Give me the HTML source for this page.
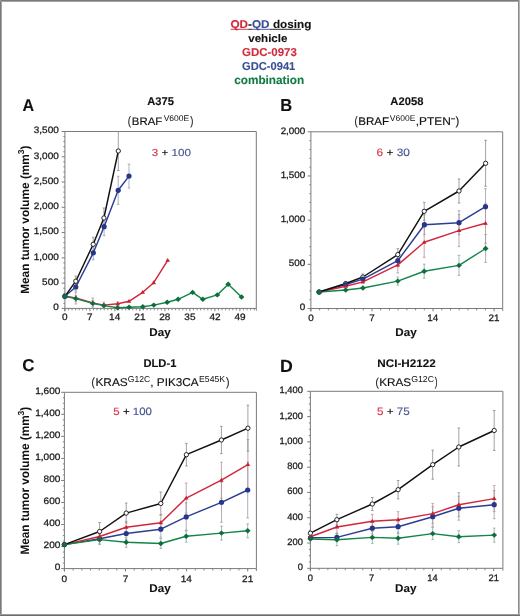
<!DOCTYPE html>
<html><head><meta charset="utf-8"><style>
html,body{margin:0;padding:0;background:#fff;}
body{width:520px;height:616px;overflow:hidden;position:relative;}
svg{position:absolute;left:0;top:0;filter:blur(0.35px);font-family:"Liberation Sans",sans-serif;text-rendering:geometricPrecision;}
</style></head><body>
<svg width="520" height="616" viewBox="0 0 520 616">
<rect x="0" y="0" width="520" height="616" fill="#fff"/>
<path d="M0.5 616 V0.5 H519" fill="none" stroke="#7a7a7a" stroke-width="1"/>
<path d="M1.5 616 V1.5 H518" fill="none" stroke="#a4a4a4" stroke-width="1"/>
<path d="M518.5 0 V616" fill="none" stroke="#8c8c8c" stroke-width="1"/>
<path d="M519.5 0 V616" fill="none" stroke="#b4b4b4" stroke-width="1"/>
<path d="M0 614.5 H520" fill="none" stroke="#9a9a9a" stroke-width="1"/>
<path d="M0 615.5 H520" fill="none" stroke="#6e6e6e" stroke-width="1"/>
<text transform="translate(230.42 27.6) scale(1.0406 1)" font-size="11.31" font-weight="bold" fill="#111" stroke="#111" stroke-width="0.1"><tspan fill="#d02a3c" stroke="#d02a3c">QD</tspan><tspan fill="#111" stroke="#111">-</tspan><tspan fill="#3a4e96" stroke="#3a4e96">QD</tspan><tspan fill="#111" stroke="#111"> dosing</tspan></text>
<line x1="230.6" y1="29.3" x2="248.2" y2="29.3" stroke="#d02a3c" stroke-width="0.9"/>
<line x1="248.2" y1="29.3" x2="252.2" y2="29.3" stroke="#111" stroke-width="0.9"/>
<line x1="252.2" y1="29.3" x2="270" y2="29.3" stroke="#3a4e96" stroke-width="0.9"/>
<line x1="270" y1="29.3" x2="301" y2="29.3" stroke="#111" stroke-width="0.9"/>
<text transform="translate(248.25 41.5) scale(1.0487 1)" font-size="11.03" font-weight="bold" fill="#111" stroke="#111" stroke-width="0.1">vehicle</text>
<text transform="translate(242.03 55.8) scale(1.0000 1)" font-size="11.46" font-weight="bold" fill="#d02a3c" stroke="#d02a3c" stroke-width="0.1">GDC-0973</text>
<text transform="translate(242.04 69.9) scale(0.9723 1)" font-size="11.46" font-weight="bold" fill="#3a4e96" stroke="#3a4e96" stroke-width="0.1">GDC-0941</text>
<text transform="translate(234.14 84) scale(0.9940 1)" font-size="11.86" font-weight="bold" fill="#117a42" stroke="#117a42" stroke-width="0.1">combination</text>
<text transform="translate(22.6 111.3) scale(0.9386 1)" font-size="17.15" font-weight="bold" fill="#111" stroke="#111" stroke-width="0.1">A</text>
<text transform="translate(280.19 111.2) scale(0.9575 1)" font-size="17.3" font-weight="bold" fill="#111" stroke="#111" stroke-width="0.1">B</text>
<text transform="translate(22.2 371.4) scale(0.9899 1)" font-size="17.15" font-weight="bold" fill="#111" stroke="#111" stroke-width="0.1">C</text>
<text transform="translate(280.01 371.5) scale(1.0106 1)" font-size="17.59" font-weight="bold" fill="#111" stroke="#111" stroke-width="0.1">D</text>
<text transform="translate(147.22 105.3) scale(0.9990 1)" font-size="11.17" font-weight="bold" fill="#111" stroke="#111" stroke-width="0.1">A375</text>
<text transform="translate(390.32 105.4) scale(1.0060 1)" font-size="11.17" font-weight="bold" fill="#111" stroke="#111" stroke-width="0.1">A2058</text>
<text transform="translate(143.45 366.5) scale(1.0002 1)" font-size="11.19" font-weight="bold" fill="#111" stroke="#111" stroke-width="0.1">DLD-1</text>
<text transform="translate(377.22 366.6) scale(1.0630 1)" font-size="11.03" font-weight="bold" fill="#111" stroke="#111" stroke-width="0.09">NCI-H2122</text>
<text transform="translate(127.69 125.04) scale(0.7944 1)" font-size="12.34" fill="#111" stroke="#111" stroke-width="0.1">(</text>
<text transform="translate(131.87 124.9) scale(1.0453 1)" font-size="10.9" font-weight="normal" fill="#111" stroke="#111" stroke-width="0.14">BRAF</text>
<text transform="translate(163.66 120.9) scale(1.0323 1)" font-size="8.26" font-weight="normal" fill="#111" stroke="#111" stroke-width="0">V600E</text>
<text transform="translate(190.14 125.07) scale(0.7706 1)" font-size="12.24" fill="#111" stroke="#111" stroke-width="0.1">)</text>
<text transform="translate(354.49 125.04) scale(0.7944 1)" font-size="12.34" fill="#111" stroke="#111" stroke-width="0.1">(</text>
<text transform="translate(358.15 124.9) scale(1.0357 1)" font-size="11.19" font-weight="normal" fill="#111" stroke="#111" stroke-width="0.14">BRAF</text>
<text transform="translate(389.86 121) scale(1.0145 1)" font-size="8.41" font-weight="normal" fill="#111" stroke="#111" stroke-width="0">V600E</text>
<text transform="translate(415.63 124.9) scale(1.0527 1)" font-size="11.34" font-weight="normal" fill="#111" stroke="#111" stroke-width="0.14">,PTEN</text>
<rect x="450.9" y="118.4" width="4.2" height="0.9" fill="#111"/>
<text transform="translate(455.43 125.11) scale(0.9412 1)" font-size="12.02" fill="#111" stroke="#111" stroke-width="0.1">)</text>
<text transform="translate(91.39 386.03) scale(0.8231 1)" font-size="11.91" fill="#111" stroke="#111" stroke-width="0.1">(</text>
<text transform="translate(95.43 386) scale(1.0620 1)" font-size="11.17" font-weight="normal" fill="#111" stroke="#111" stroke-width="0.14">KRAS</text>
<text transform="translate(127.87 382.2) scale(0.9956 1)" font-size="8.6" font-weight="normal" fill="#111" stroke="#111" stroke-width="0">G12C</text>
<text transform="translate(150.24 386.1) scale(1.0415 1)" font-size="11.32" font-weight="normal" fill="#111" stroke="#111" stroke-width="0.14">, PIK3CA</text>
<text transform="translate(199.09 382.2) scale(0.9893 1)" font-size="8.72" font-weight="normal" fill="#111" stroke="#111" stroke-width="0">E545K</text>
<text transform="translate(225.94 386.03) scale(0.8864 1)" font-size="11.91" fill="#111" stroke="#111" stroke-width="0.1">)</text>
<text transform="translate(375.39 386.12) scale(0.8538 1)" font-size="11.49" fill="#111" stroke="#111" stroke-width="0.1">(</text>
<text transform="translate(379.24 386) scale(1.0653 1)" font-size="11.03" font-weight="normal" fill="#111" stroke="#111" stroke-width="0.14">KRAS</text>
<text transform="translate(411.16 382.3) scale(1.0186 1)" font-size="8.6" font-weight="normal" fill="#111" stroke="#111" stroke-width="0">G12C</text>
<text transform="translate(434.65 385.8) scale(0.6607 1)" font-size="12.56" fill="#111" stroke="#111" stroke-width="0.1">)</text>
<text transform="translate(151.76 155.7) scale(1.1485 1)" font-size="10.17" font-weight="normal" fill="#111" stroke="#111" stroke-width="0.13"><tspan fill="#d63848" stroke="#d63848">3</tspan><tspan fill="#111" stroke="#111"> + </tspan><tspan fill="#46558f" stroke="#46558f">100</tspan></text>
<text transform="translate(376.6 155.6) scale(1.1024 1)" font-size="10.74" font-weight="normal" fill="#111" stroke="#111" stroke-width="0.14"><tspan fill="#d63848" stroke="#d63848">6</tspan><tspan fill="#111" stroke="#111"> + </tspan><tspan fill="#46558f" stroke="#46558f">30</tspan></text>
<text transform="translate(113.34 414.6) scale(1.0825 1)" font-size="10.6" font-weight="normal" fill="#111" stroke="#111" stroke-width="0.14"><tspan fill="#d63848" stroke="#d63848">5</tspan><tspan fill="#111" stroke="#111"> + </tspan><tspan fill="#46558f" stroke="#46558f">100</tspan></text>
<text transform="translate(377.03 415.4) scale(1.0734 1)" font-size="10.9" font-weight="normal" fill="#111" stroke="#111" stroke-width="0.14"><tspan fill="#d63848" stroke="#d63848">5</tspan><tspan fill="#111" stroke="#111"> + </tspan><tspan fill="#46558f" stroke="#46558f">75</tspan></text>
<g transform="translate(28.6 293) rotate(-90) scale(0.9905 1)"><text x="-0.8" y="0" font-size="11.92" font-weight="bold" fill="#111">Mean tumor volume (mm<tspan font-size="8.58" dy="-4.29">3</tspan><tspan dy="4.29">)</tspan></text></g>
<g transform="translate(28.8 553.8) rotate(-90) scale(0.9636 1)"><text x="-0.82" y="0" font-size="12.21" font-weight="bold" fill="#111">Mean tumor volume (mm<tspan font-size="8.79" dy="-4.4">3</tspan><tspan dy="4.4">)</tspan></text></g>
<path d="M64.9 131.5 H256.3 V308.4" fill="none" stroke="#7a7a7a" stroke-width="1"/>
<line x1="64.9" y1="131.5" x2="64.9" y2="311.2" stroke="#7a7a7a" stroke-width="1"/>
<line x1="64.9" y1="308.4" x2="256.3" y2="308.4" stroke="#7a7a7a" stroke-width="1"/>
<line x1="256.3" y1="308.4" x2="256.3" y2="310.7" stroke="#7a7a7a" stroke-width="1"/>
<line x1="61.7" y1="308.4" x2="64.9" y2="308.4" stroke="#7a7a7a" stroke-width="1"/>
<line x1="63.3" y1="303.35" x2="64.9" y2="303.35" stroke="#7a7a7a" stroke-width="0.9"/>
<line x1="63.3" y1="298.29" x2="64.9" y2="298.29" stroke="#7a7a7a" stroke-width="0.9"/>
<line x1="63.3" y1="293.24" x2="64.9" y2="293.24" stroke="#7a7a7a" stroke-width="0.9"/>
<line x1="63.3" y1="288.18" x2="64.9" y2="288.18" stroke="#7a7a7a" stroke-width="0.9"/>
<line x1="61.7" y1="283.13" x2="64.9" y2="283.13" stroke="#7a7a7a" stroke-width="1"/>
<line x1="63.3" y1="278.07" x2="64.9" y2="278.07" stroke="#7a7a7a" stroke-width="0.9"/>
<line x1="63.3" y1="273.02" x2="64.9" y2="273.02" stroke="#7a7a7a" stroke-width="0.9"/>
<line x1="63.3" y1="267.97" x2="64.9" y2="267.97" stroke="#7a7a7a" stroke-width="0.9"/>
<line x1="63.3" y1="262.91" x2="64.9" y2="262.91" stroke="#7a7a7a" stroke-width="0.9"/>
<line x1="61.7" y1="257.86" x2="64.9" y2="257.86" stroke="#7a7a7a" stroke-width="1"/>
<line x1="63.3" y1="252.8" x2="64.9" y2="252.8" stroke="#7a7a7a" stroke-width="0.9"/>
<line x1="63.3" y1="247.75" x2="64.9" y2="247.75" stroke="#7a7a7a" stroke-width="0.9"/>
<line x1="63.3" y1="242.69" x2="64.9" y2="242.69" stroke="#7a7a7a" stroke-width="0.9"/>
<line x1="63.3" y1="237.64" x2="64.9" y2="237.64" stroke="#7a7a7a" stroke-width="0.9"/>
<line x1="61.7" y1="232.59" x2="64.9" y2="232.59" stroke="#7a7a7a" stroke-width="1"/>
<line x1="63.3" y1="227.53" x2="64.9" y2="227.53" stroke="#7a7a7a" stroke-width="0.9"/>
<line x1="63.3" y1="222.48" x2="64.9" y2="222.48" stroke="#7a7a7a" stroke-width="0.9"/>
<line x1="63.3" y1="217.42" x2="64.9" y2="217.42" stroke="#7a7a7a" stroke-width="0.9"/>
<line x1="63.3" y1="212.37" x2="64.9" y2="212.37" stroke="#7a7a7a" stroke-width="0.9"/>
<line x1="61.7" y1="207.31" x2="64.9" y2="207.31" stroke="#7a7a7a" stroke-width="1"/>
<line x1="63.3" y1="202.26" x2="64.9" y2="202.26" stroke="#7a7a7a" stroke-width="0.9"/>
<line x1="63.3" y1="197.21" x2="64.9" y2="197.21" stroke="#7a7a7a" stroke-width="0.9"/>
<line x1="63.3" y1="192.15" x2="64.9" y2="192.15" stroke="#7a7a7a" stroke-width="0.9"/>
<line x1="63.3" y1="187.1" x2="64.9" y2="187.1" stroke="#7a7a7a" stroke-width="0.9"/>
<line x1="61.7" y1="182.04" x2="64.9" y2="182.04" stroke="#7a7a7a" stroke-width="1"/>
<line x1="63.3" y1="176.99" x2="64.9" y2="176.99" stroke="#7a7a7a" stroke-width="0.9"/>
<line x1="63.3" y1="171.93" x2="64.9" y2="171.93" stroke="#7a7a7a" stroke-width="0.9"/>
<line x1="63.3" y1="166.88" x2="64.9" y2="166.88" stroke="#7a7a7a" stroke-width="0.9"/>
<line x1="63.3" y1="161.83" x2="64.9" y2="161.83" stroke="#7a7a7a" stroke-width="0.9"/>
<line x1="61.7" y1="156.77" x2="64.9" y2="156.77" stroke="#7a7a7a" stroke-width="1"/>
<line x1="63.3" y1="151.72" x2="64.9" y2="151.72" stroke="#7a7a7a" stroke-width="0.9"/>
<line x1="63.3" y1="146.66" x2="64.9" y2="146.66" stroke="#7a7a7a" stroke-width="0.9"/>
<line x1="63.3" y1="141.61" x2="64.9" y2="141.61" stroke="#7a7a7a" stroke-width="0.9"/>
<line x1="63.3" y1="136.55" x2="64.9" y2="136.55" stroke="#7a7a7a" stroke-width="0.9"/>
<line x1="61.7" y1="131.5" x2="64.9" y2="131.5" stroke="#7a7a7a" stroke-width="1"/>
<line x1="64.9" y1="308.4" x2="64.9" y2="311.2" stroke="#7a7a7a" stroke-width="1"/>
<line x1="68.47" y1="308.4" x2="68.47" y2="310.3" stroke="#7a7a7a" stroke-width="0.9"/>
<line x1="72.04" y1="308.4" x2="72.04" y2="310.3" stroke="#7a7a7a" stroke-width="0.9"/>
<line x1="75.61" y1="308.4" x2="75.61" y2="310.3" stroke="#7a7a7a" stroke-width="0.9"/>
<line x1="79.19" y1="308.4" x2="79.19" y2="310.3" stroke="#7a7a7a" stroke-width="0.9"/>
<line x1="82.76" y1="308.4" x2="82.76" y2="310.3" stroke="#7a7a7a" stroke-width="0.9"/>
<line x1="86.33" y1="308.4" x2="86.33" y2="310.3" stroke="#7a7a7a" stroke-width="0.9"/>
<line x1="89.9" y1="308.4" x2="89.9" y2="311.2" stroke="#7a7a7a" stroke-width="1"/>
<line x1="93.47" y1="308.4" x2="93.47" y2="310.3" stroke="#7a7a7a" stroke-width="0.9"/>
<line x1="97.04" y1="308.4" x2="97.04" y2="310.3" stroke="#7a7a7a" stroke-width="0.9"/>
<line x1="100.61" y1="308.4" x2="100.61" y2="310.3" stroke="#7a7a7a" stroke-width="0.9"/>
<line x1="104.19" y1="308.4" x2="104.19" y2="310.3" stroke="#7a7a7a" stroke-width="0.9"/>
<line x1="107.76" y1="308.4" x2="107.76" y2="310.3" stroke="#7a7a7a" stroke-width="0.9"/>
<line x1="111.33" y1="308.4" x2="111.33" y2="310.3" stroke="#7a7a7a" stroke-width="0.9"/>
<line x1="114.9" y1="308.4" x2="114.9" y2="311.2" stroke="#7a7a7a" stroke-width="1"/>
<line x1="118.47" y1="308.4" x2="118.47" y2="310.3" stroke="#7a7a7a" stroke-width="0.9"/>
<line x1="122.04" y1="308.4" x2="122.04" y2="310.3" stroke="#7a7a7a" stroke-width="0.9"/>
<line x1="125.61" y1="308.4" x2="125.61" y2="310.3" stroke="#7a7a7a" stroke-width="0.9"/>
<line x1="129.19" y1="308.4" x2="129.19" y2="310.3" stroke="#7a7a7a" stroke-width="0.9"/>
<line x1="132.76" y1="308.4" x2="132.76" y2="310.3" stroke="#7a7a7a" stroke-width="0.9"/>
<line x1="136.33" y1="308.4" x2="136.33" y2="310.3" stroke="#7a7a7a" stroke-width="0.9"/>
<line x1="139.9" y1="308.4" x2="139.9" y2="311.2" stroke="#7a7a7a" stroke-width="1"/>
<line x1="143.47" y1="308.4" x2="143.47" y2="310.3" stroke="#7a7a7a" stroke-width="0.9"/>
<line x1="147.04" y1="308.4" x2="147.04" y2="310.3" stroke="#7a7a7a" stroke-width="0.9"/>
<line x1="150.61" y1="308.4" x2="150.61" y2="310.3" stroke="#7a7a7a" stroke-width="0.9"/>
<line x1="154.19" y1="308.4" x2="154.19" y2="310.3" stroke="#7a7a7a" stroke-width="0.9"/>
<line x1="157.76" y1="308.4" x2="157.76" y2="310.3" stroke="#7a7a7a" stroke-width="0.9"/>
<line x1="161.33" y1="308.4" x2="161.33" y2="310.3" stroke="#7a7a7a" stroke-width="0.9"/>
<line x1="164.9" y1="308.4" x2="164.9" y2="311.2" stroke="#7a7a7a" stroke-width="1"/>
<line x1="168.47" y1="308.4" x2="168.47" y2="310.3" stroke="#7a7a7a" stroke-width="0.9"/>
<line x1="172.04" y1="308.4" x2="172.04" y2="310.3" stroke="#7a7a7a" stroke-width="0.9"/>
<line x1="175.61" y1="308.4" x2="175.61" y2="310.3" stroke="#7a7a7a" stroke-width="0.9"/>
<line x1="179.19" y1="308.4" x2="179.19" y2="310.3" stroke="#7a7a7a" stroke-width="0.9"/>
<line x1="182.76" y1="308.4" x2="182.76" y2="310.3" stroke="#7a7a7a" stroke-width="0.9"/>
<line x1="186.33" y1="308.4" x2="186.33" y2="310.3" stroke="#7a7a7a" stroke-width="0.9"/>
<line x1="189.9" y1="308.4" x2="189.9" y2="311.2" stroke="#7a7a7a" stroke-width="1"/>
<line x1="193.47" y1="308.4" x2="193.47" y2="310.3" stroke="#7a7a7a" stroke-width="0.9"/>
<line x1="197.04" y1="308.4" x2="197.04" y2="310.3" stroke="#7a7a7a" stroke-width="0.9"/>
<line x1="200.61" y1="308.4" x2="200.61" y2="310.3" stroke="#7a7a7a" stroke-width="0.9"/>
<line x1="204.19" y1="308.4" x2="204.19" y2="310.3" stroke="#7a7a7a" stroke-width="0.9"/>
<line x1="207.76" y1="308.4" x2="207.76" y2="310.3" stroke="#7a7a7a" stroke-width="0.9"/>
<line x1="211.33" y1="308.4" x2="211.33" y2="310.3" stroke="#7a7a7a" stroke-width="0.9"/>
<line x1="214.9" y1="308.4" x2="214.9" y2="311.2" stroke="#7a7a7a" stroke-width="1"/>
<line x1="218.47" y1="308.4" x2="218.47" y2="310.3" stroke="#7a7a7a" stroke-width="0.9"/>
<line x1="222.04" y1="308.4" x2="222.04" y2="310.3" stroke="#7a7a7a" stroke-width="0.9"/>
<line x1="225.61" y1="308.4" x2="225.61" y2="310.3" stroke="#7a7a7a" stroke-width="0.9"/>
<line x1="229.19" y1="308.4" x2="229.19" y2="310.3" stroke="#7a7a7a" stroke-width="0.9"/>
<line x1="232.76" y1="308.4" x2="232.76" y2="310.3" stroke="#7a7a7a" stroke-width="0.9"/>
<line x1="236.33" y1="308.4" x2="236.33" y2="310.3" stroke="#7a7a7a" stroke-width="0.9"/>
<line x1="239.9" y1="308.4" x2="239.9" y2="311.2" stroke="#7a7a7a" stroke-width="1"/>
<line x1="243.47" y1="308.4" x2="243.47" y2="310.3" stroke="#7a7a7a" stroke-width="0.9"/>
<line x1="247.04" y1="308.4" x2="247.04" y2="310.3" stroke="#7a7a7a" stroke-width="0.9"/>
<line x1="250.61" y1="308.4" x2="250.61" y2="310.3" stroke="#7a7a7a" stroke-width="0.9"/>
<line x1="254.19" y1="308.4" x2="254.19" y2="310.3" stroke="#7a7a7a" stroke-width="0.9"/>
<text transform="translate(53.23 310.15) scale(1.0753 1)" font-size="9.3" font-weight="normal" fill="#1a1a1a" stroke="#1a1a1a" stroke-width="0.26">0</text>
<text transform="translate(42.11 284.87) scale(1.0753 1)" font-size="9.3" font-weight="normal" fill="#1a1a1a" stroke="#1a1a1a" stroke-width="0.26">500</text>
<text transform="translate(33.77 259.6) scale(1.0753 1)" font-size="9.3" font-weight="normal" fill="#1a1a1a" stroke="#1a1a1a" stroke-width="0.26">1,000</text>
<text transform="translate(33.77 234.33) scale(1.0753 1)" font-size="9.3" font-weight="normal" fill="#1a1a1a" stroke="#1a1a1a" stroke-width="0.26">1,500</text>
<text transform="translate(33.77 209.06) scale(1.0753 1)" font-size="9.3" font-weight="normal" fill="#1a1a1a" stroke="#1a1a1a" stroke-width="0.26">2,000</text>
<text transform="translate(33.77 183.79) scale(1.0753 1)" font-size="9.3" font-weight="normal" fill="#1a1a1a" stroke="#1a1a1a" stroke-width="0.26">2,500</text>
<text transform="translate(33.77 158.52) scale(1.0753 1)" font-size="9.3" font-weight="normal" fill="#1a1a1a" stroke="#1a1a1a" stroke-width="0.26">3,000</text>
<text transform="translate(33.77 133.25) scale(1.0753 1)" font-size="9.3" font-weight="normal" fill="#1a1a1a" stroke="#1a1a1a" stroke-width="0.26">3,500</text>
<text transform="translate(62.12 320.45) scale(1.0753 1)" font-size="9.3" font-weight="normal" fill="#1a1a1a" stroke="#1a1a1a" stroke-width="0.26">0</text>
<text transform="translate(87.11 320.45) scale(1.0753 1)" font-size="9.3" font-weight="normal" fill="#1a1a1a" stroke="#1a1a1a" stroke-width="0.26">7</text>
<text transform="translate(109.1 320.45) scale(1.0753 1)" font-size="9.3" font-weight="normal" fill="#1a1a1a" stroke="#1a1a1a" stroke-width="0.26">14</text>
<text transform="translate(134.33 320.45) scale(1.0753 1)" font-size="9.3" font-weight="normal" fill="#1a1a1a" stroke="#1a1a1a" stroke-width="0.26">21</text>
<text transform="translate(159.3 320.45) scale(1.0753 1)" font-size="9.3" font-weight="normal" fill="#1a1a1a" stroke="#1a1a1a" stroke-width="0.26">28</text>
<text transform="translate(184.36 320.45) scale(1.0753 1)" font-size="9.3" font-weight="normal" fill="#1a1a1a" stroke="#1a1a1a" stroke-width="0.26">35</text>
<text transform="translate(209.48 320.45) scale(1.0753 1)" font-size="9.3" font-weight="normal" fill="#1a1a1a" stroke="#1a1a1a" stroke-width="0.26">42</text>
<text transform="translate(234.46 320.45) scale(1.0753 1)" font-size="9.3" font-weight="normal" fill="#1a1a1a" stroke="#1a1a1a" stroke-width="0.26">49</text>
<path d="M310.9 131.8 H502.7 V308.5" fill="none" stroke="#7a7a7a" stroke-width="1"/>
<line x1="310.9" y1="131.8" x2="310.9" y2="311.3" stroke="#7a7a7a" stroke-width="1"/>
<line x1="310.9" y1="308.5" x2="502.7" y2="308.5" stroke="#7a7a7a" stroke-width="1"/>
<line x1="502.7" y1="308.5" x2="502.7" y2="310.8" stroke="#7a7a7a" stroke-width="1"/>
<line x1="307.7" y1="308.5" x2="310.9" y2="308.5" stroke="#7a7a7a" stroke-width="1"/>
<line x1="309.3" y1="299.67" x2="310.9" y2="299.67" stroke="#7a7a7a" stroke-width="0.9"/>
<line x1="309.3" y1="290.83" x2="310.9" y2="290.83" stroke="#7a7a7a" stroke-width="0.9"/>
<line x1="309.3" y1="282" x2="310.9" y2="282" stroke="#7a7a7a" stroke-width="0.9"/>
<line x1="309.3" y1="273.16" x2="310.9" y2="273.16" stroke="#7a7a7a" stroke-width="0.9"/>
<line x1="307.7" y1="264.32" x2="310.9" y2="264.32" stroke="#7a7a7a" stroke-width="1"/>
<line x1="309.3" y1="255.49" x2="310.9" y2="255.49" stroke="#7a7a7a" stroke-width="0.9"/>
<line x1="309.3" y1="246.66" x2="310.9" y2="246.66" stroke="#7a7a7a" stroke-width="0.9"/>
<line x1="309.3" y1="237.82" x2="310.9" y2="237.82" stroke="#7a7a7a" stroke-width="0.9"/>
<line x1="309.3" y1="228.99" x2="310.9" y2="228.99" stroke="#7a7a7a" stroke-width="0.9"/>
<line x1="307.7" y1="220.15" x2="310.9" y2="220.15" stroke="#7a7a7a" stroke-width="1"/>
<line x1="309.3" y1="211.31" x2="310.9" y2="211.31" stroke="#7a7a7a" stroke-width="0.9"/>
<line x1="309.3" y1="202.48" x2="310.9" y2="202.48" stroke="#7a7a7a" stroke-width="0.9"/>
<line x1="309.3" y1="193.64" x2="310.9" y2="193.64" stroke="#7a7a7a" stroke-width="0.9"/>
<line x1="309.3" y1="184.81" x2="310.9" y2="184.81" stroke="#7a7a7a" stroke-width="0.9"/>
<line x1="307.7" y1="175.97" x2="310.9" y2="175.97" stroke="#7a7a7a" stroke-width="1"/>
<line x1="309.3" y1="167.14" x2="310.9" y2="167.14" stroke="#7a7a7a" stroke-width="0.9"/>
<line x1="309.3" y1="158.31" x2="310.9" y2="158.31" stroke="#7a7a7a" stroke-width="0.9"/>
<line x1="309.3" y1="149.47" x2="310.9" y2="149.47" stroke="#7a7a7a" stroke-width="0.9"/>
<line x1="309.3" y1="140.63" x2="310.9" y2="140.63" stroke="#7a7a7a" stroke-width="0.9"/>
<line x1="307.7" y1="131.8" x2="310.9" y2="131.8" stroke="#7a7a7a" stroke-width="1"/>
<line x1="310.9" y1="308.5" x2="310.9" y2="311.3" stroke="#7a7a7a" stroke-width="1"/>
<line x1="319.62" y1="308.5" x2="319.62" y2="310.4" stroke="#7a7a7a" stroke-width="0.9"/>
<line x1="328.35" y1="308.5" x2="328.35" y2="310.4" stroke="#7a7a7a" stroke-width="0.9"/>
<line x1="337.07" y1="308.5" x2="337.07" y2="310.4" stroke="#7a7a7a" stroke-width="0.9"/>
<line x1="345.8" y1="308.5" x2="345.8" y2="310.4" stroke="#7a7a7a" stroke-width="0.9"/>
<line x1="354.52" y1="308.5" x2="354.52" y2="310.4" stroke="#7a7a7a" stroke-width="0.9"/>
<line x1="363.25" y1="308.5" x2="363.25" y2="310.4" stroke="#7a7a7a" stroke-width="0.9"/>
<line x1="371.97" y1="308.5" x2="371.97" y2="311.3" stroke="#7a7a7a" stroke-width="1"/>
<line x1="380.69" y1="308.5" x2="380.69" y2="310.4" stroke="#7a7a7a" stroke-width="0.9"/>
<line x1="389.42" y1="308.5" x2="389.42" y2="310.4" stroke="#7a7a7a" stroke-width="0.9"/>
<line x1="398.14" y1="308.5" x2="398.14" y2="310.4" stroke="#7a7a7a" stroke-width="0.9"/>
<line x1="406.87" y1="308.5" x2="406.87" y2="310.4" stroke="#7a7a7a" stroke-width="0.9"/>
<line x1="415.59" y1="308.5" x2="415.59" y2="310.4" stroke="#7a7a7a" stroke-width="0.9"/>
<line x1="424.32" y1="308.5" x2="424.32" y2="310.4" stroke="#7a7a7a" stroke-width="0.9"/>
<line x1="433.04" y1="308.5" x2="433.04" y2="311.3" stroke="#7a7a7a" stroke-width="1"/>
<line x1="441.76" y1="308.5" x2="441.76" y2="310.4" stroke="#7a7a7a" stroke-width="0.9"/>
<line x1="450.49" y1="308.5" x2="450.49" y2="310.4" stroke="#7a7a7a" stroke-width="0.9"/>
<line x1="459.21" y1="308.5" x2="459.21" y2="310.4" stroke="#7a7a7a" stroke-width="0.9"/>
<line x1="467.94" y1="308.5" x2="467.94" y2="310.4" stroke="#7a7a7a" stroke-width="0.9"/>
<line x1="476.66" y1="308.5" x2="476.66" y2="310.4" stroke="#7a7a7a" stroke-width="0.9"/>
<line x1="485.39" y1="308.5" x2="485.39" y2="310.4" stroke="#7a7a7a" stroke-width="0.9"/>
<line x1="494.11" y1="308.5" x2="494.11" y2="311.3" stroke="#7a7a7a" stroke-width="1"/>
<text transform="translate(299.81 310.3) scale(1.0591 1)" font-size="9.3" font-weight="normal" fill="#1a1a1a" stroke="#1a1a1a" stroke-width="0.26">0</text>
<text transform="translate(288.85 266.12) scale(1.0591 1)" font-size="9.3" font-weight="normal" fill="#1a1a1a" stroke="#1a1a1a" stroke-width="0.26">500</text>
<text transform="translate(280.64 221.95) scale(1.0591 1)" font-size="9.3" font-weight="normal" fill="#1a1a1a" stroke="#1a1a1a" stroke-width="0.26">1,000</text>
<text transform="translate(280.64 177.77) scale(1.0591 1)" font-size="9.3" font-weight="normal" fill="#1a1a1a" stroke="#1a1a1a" stroke-width="0.26">1,500</text>
<text transform="translate(280.64 133.6) scale(1.0591 1)" font-size="9.3" font-weight="normal" fill="#1a1a1a" stroke="#1a1a1a" stroke-width="0.26">2,000</text>
<text transform="translate(308.16 320.6) scale(1.0591 1)" font-size="9.3" font-weight="normal" fill="#1a1a1a" stroke="#1a1a1a" stroke-width="0.26">0</text>
<text transform="translate(369.23 320.6) scale(1.0591 1)" font-size="9.3" font-weight="normal" fill="#1a1a1a" stroke="#1a1a1a" stroke-width="0.26">7</text>
<text transform="translate(427.33 320.6) scale(1.0591 1)" font-size="9.3" font-weight="normal" fill="#1a1a1a" stroke="#1a1a1a" stroke-width="0.26">14</text>
<text transform="translate(488.62 320.6) scale(1.0591 1)" font-size="9.3" font-weight="normal" fill="#1a1a1a" stroke="#1a1a1a" stroke-width="0.26">21</text>
<path d="M64.4 392.3 H256.4 V568.6" fill="none" stroke="#7a7a7a" stroke-width="1"/>
<line x1="64.4" y1="392.3" x2="64.4" y2="571.4" stroke="#7a7a7a" stroke-width="1"/>
<line x1="64.4" y1="568.6" x2="256.4" y2="568.6" stroke="#7a7a7a" stroke-width="1"/>
<line x1="256.4" y1="568.6" x2="256.4" y2="570.9" stroke="#7a7a7a" stroke-width="1"/>
<line x1="61.2" y1="568.6" x2="64.4" y2="568.6" stroke="#7a7a7a" stroke-width="1"/>
<line x1="62.8" y1="563.09" x2="64.4" y2="563.09" stroke="#7a7a7a" stroke-width="0.9"/>
<line x1="62.8" y1="557.58" x2="64.4" y2="557.58" stroke="#7a7a7a" stroke-width="0.9"/>
<line x1="62.8" y1="552.07" x2="64.4" y2="552.07" stroke="#7a7a7a" stroke-width="0.9"/>
<line x1="61.2" y1="546.56" x2="64.4" y2="546.56" stroke="#7a7a7a" stroke-width="1"/>
<line x1="62.8" y1="541.05" x2="64.4" y2="541.05" stroke="#7a7a7a" stroke-width="0.9"/>
<line x1="62.8" y1="535.54" x2="64.4" y2="535.54" stroke="#7a7a7a" stroke-width="0.9"/>
<line x1="62.8" y1="530.03" x2="64.4" y2="530.03" stroke="#7a7a7a" stroke-width="0.9"/>
<line x1="61.2" y1="524.52" x2="64.4" y2="524.52" stroke="#7a7a7a" stroke-width="1"/>
<line x1="62.8" y1="519.02" x2="64.4" y2="519.02" stroke="#7a7a7a" stroke-width="0.9"/>
<line x1="62.8" y1="513.51" x2="64.4" y2="513.51" stroke="#7a7a7a" stroke-width="0.9"/>
<line x1="62.8" y1="508" x2="64.4" y2="508" stroke="#7a7a7a" stroke-width="0.9"/>
<line x1="61.2" y1="502.49" x2="64.4" y2="502.49" stroke="#7a7a7a" stroke-width="1"/>
<line x1="62.8" y1="496.98" x2="64.4" y2="496.98" stroke="#7a7a7a" stroke-width="0.9"/>
<line x1="62.8" y1="491.47" x2="64.4" y2="491.47" stroke="#7a7a7a" stroke-width="0.9"/>
<line x1="62.8" y1="485.96" x2="64.4" y2="485.96" stroke="#7a7a7a" stroke-width="0.9"/>
<line x1="61.2" y1="480.45" x2="64.4" y2="480.45" stroke="#7a7a7a" stroke-width="1"/>
<line x1="62.8" y1="474.94" x2="64.4" y2="474.94" stroke="#7a7a7a" stroke-width="0.9"/>
<line x1="62.8" y1="469.43" x2="64.4" y2="469.43" stroke="#7a7a7a" stroke-width="0.9"/>
<line x1="62.8" y1="463.92" x2="64.4" y2="463.92" stroke="#7a7a7a" stroke-width="0.9"/>
<line x1="61.2" y1="458.41" x2="64.4" y2="458.41" stroke="#7a7a7a" stroke-width="1"/>
<line x1="62.8" y1="452.9" x2="64.4" y2="452.9" stroke="#7a7a7a" stroke-width="0.9"/>
<line x1="62.8" y1="447.39" x2="64.4" y2="447.39" stroke="#7a7a7a" stroke-width="0.9"/>
<line x1="62.8" y1="441.88" x2="64.4" y2="441.88" stroke="#7a7a7a" stroke-width="0.9"/>
<line x1="61.2" y1="436.38" x2="64.4" y2="436.38" stroke="#7a7a7a" stroke-width="1"/>
<line x1="62.8" y1="430.87" x2="64.4" y2="430.87" stroke="#7a7a7a" stroke-width="0.9"/>
<line x1="62.8" y1="425.36" x2="64.4" y2="425.36" stroke="#7a7a7a" stroke-width="0.9"/>
<line x1="62.8" y1="419.85" x2="64.4" y2="419.85" stroke="#7a7a7a" stroke-width="0.9"/>
<line x1="61.2" y1="414.34" x2="64.4" y2="414.34" stroke="#7a7a7a" stroke-width="1"/>
<line x1="62.8" y1="408.83" x2="64.4" y2="408.83" stroke="#7a7a7a" stroke-width="0.9"/>
<line x1="62.8" y1="403.32" x2="64.4" y2="403.32" stroke="#7a7a7a" stroke-width="0.9"/>
<line x1="62.8" y1="397.81" x2="64.4" y2="397.81" stroke="#7a7a7a" stroke-width="0.9"/>
<line x1="61.2" y1="392.3" x2="64.4" y2="392.3" stroke="#7a7a7a" stroke-width="1"/>
<line x1="64.4" y1="568.6" x2="64.4" y2="571.4" stroke="#7a7a7a" stroke-width="1"/>
<line x1="73.13" y1="568.6" x2="73.13" y2="570.5" stroke="#7a7a7a" stroke-width="0.9"/>
<line x1="81.86" y1="568.6" x2="81.86" y2="570.5" stroke="#7a7a7a" stroke-width="0.9"/>
<line x1="90.59" y1="568.6" x2="90.59" y2="570.5" stroke="#7a7a7a" stroke-width="0.9"/>
<line x1="99.31" y1="568.6" x2="99.31" y2="570.5" stroke="#7a7a7a" stroke-width="0.9"/>
<line x1="108.04" y1="568.6" x2="108.04" y2="570.5" stroke="#7a7a7a" stroke-width="0.9"/>
<line x1="116.77" y1="568.6" x2="116.77" y2="570.5" stroke="#7a7a7a" stroke-width="0.9"/>
<line x1="125.5" y1="568.6" x2="125.5" y2="571.4" stroke="#7a7a7a" stroke-width="1"/>
<line x1="134.23" y1="568.6" x2="134.23" y2="570.5" stroke="#7a7a7a" stroke-width="0.9"/>
<line x1="142.96" y1="568.6" x2="142.96" y2="570.5" stroke="#7a7a7a" stroke-width="0.9"/>
<line x1="151.69" y1="568.6" x2="151.69" y2="570.5" stroke="#7a7a7a" stroke-width="0.9"/>
<line x1="160.41" y1="568.6" x2="160.41" y2="570.5" stroke="#7a7a7a" stroke-width="0.9"/>
<line x1="169.14" y1="568.6" x2="169.14" y2="570.5" stroke="#7a7a7a" stroke-width="0.9"/>
<line x1="177.87" y1="568.6" x2="177.87" y2="570.5" stroke="#7a7a7a" stroke-width="0.9"/>
<line x1="186.6" y1="568.6" x2="186.6" y2="571.4" stroke="#7a7a7a" stroke-width="1"/>
<line x1="195.33" y1="568.6" x2="195.33" y2="570.5" stroke="#7a7a7a" stroke-width="0.9"/>
<line x1="204.06" y1="568.6" x2="204.06" y2="570.5" stroke="#7a7a7a" stroke-width="0.9"/>
<line x1="212.79" y1="568.6" x2="212.79" y2="570.5" stroke="#7a7a7a" stroke-width="0.9"/>
<line x1="221.51" y1="568.6" x2="221.51" y2="570.5" stroke="#7a7a7a" stroke-width="0.9"/>
<line x1="230.24" y1="568.6" x2="230.24" y2="570.5" stroke="#7a7a7a" stroke-width="0.9"/>
<line x1="238.97" y1="568.6" x2="238.97" y2="570.5" stroke="#7a7a7a" stroke-width="0.9"/>
<line x1="247.7" y1="568.6" x2="247.7" y2="571.4" stroke="#7a7a7a" stroke-width="1"/>
<text transform="translate(54.8 570.45) scale(1.0806 1)" font-size="9.3" font-weight="normal" fill="#1a1a1a" stroke="#1a1a1a" stroke-width="0.26">0</text>
<text transform="translate(43.62 548.41) scale(1.0806 1)" font-size="9.3" font-weight="normal" fill="#1a1a1a" stroke="#1a1a1a" stroke-width="0.26">200</text>
<text transform="translate(43.62 526.37) scale(1.0806 1)" font-size="9.3" font-weight="normal" fill="#1a1a1a" stroke="#1a1a1a" stroke-width="0.26">400</text>
<text transform="translate(43.62 504.33) scale(1.0806 1)" font-size="9.3" font-weight="normal" fill="#1a1a1a" stroke="#1a1a1a" stroke-width="0.26">600</text>
<text transform="translate(43.62 482.3) scale(1.0806 1)" font-size="9.3" font-weight="normal" fill="#1a1a1a" stroke="#1a1a1a" stroke-width="0.26">800</text>
<text transform="translate(35.24 460.26) scale(1.0806 1)" font-size="9.3" font-weight="normal" fill="#1a1a1a" stroke="#1a1a1a" stroke-width="0.26">1,000</text>
<text transform="translate(35.24 438.22) scale(1.0806 1)" font-size="9.3" font-weight="normal" fill="#1a1a1a" stroke="#1a1a1a" stroke-width="0.26">1,200</text>
<text transform="translate(35.24 416.18) scale(1.0806 1)" font-size="9.3" font-weight="normal" fill="#1a1a1a" stroke="#1a1a1a" stroke-width="0.26">1,400</text>
<text transform="translate(35.24 394.15) scale(1.0806 1)" font-size="9.3" font-weight="normal" fill="#1a1a1a" stroke="#1a1a1a" stroke-width="0.26">1,600</text>
<text transform="translate(61.61 581.95) scale(1.0806 1)" font-size="9.3" font-weight="normal" fill="#1a1a1a" stroke="#1a1a1a" stroke-width="0.26">0</text>
<text transform="translate(122.7 581.95) scale(1.0806 1)" font-size="9.3" font-weight="normal" fill="#1a1a1a" stroke="#1a1a1a" stroke-width="0.26">7</text>
<text transform="translate(180.78 581.95) scale(1.0806 1)" font-size="9.3" font-weight="normal" fill="#1a1a1a" stroke="#1a1a1a" stroke-width="0.26">14</text>
<text transform="translate(242.1 581.95) scale(1.0806 1)" font-size="9.3" font-weight="normal" fill="#1a1a1a" stroke="#1a1a1a" stroke-width="0.26">21</text>
<path d="M310.4 391.3 H502.9 V568.3" fill="none" stroke="#7a7a7a" stroke-width="1"/>
<line x1="310.4" y1="391.3" x2="310.4" y2="571.1" stroke="#7a7a7a" stroke-width="1"/>
<line x1="310.4" y1="568.3" x2="502.9" y2="568.3" stroke="#7a7a7a" stroke-width="1"/>
<line x1="502.9" y1="568.3" x2="502.9" y2="570.6" stroke="#7a7a7a" stroke-width="1"/>
<line x1="307.2" y1="568.3" x2="310.4" y2="568.3" stroke="#7a7a7a" stroke-width="1"/>
<line x1="308.8" y1="561.98" x2="310.4" y2="561.98" stroke="#7a7a7a" stroke-width="0.9"/>
<line x1="308.8" y1="555.66" x2="310.4" y2="555.66" stroke="#7a7a7a" stroke-width="0.9"/>
<line x1="308.8" y1="549.34" x2="310.4" y2="549.34" stroke="#7a7a7a" stroke-width="0.9"/>
<line x1="307.2" y1="543.01" x2="310.4" y2="543.01" stroke="#7a7a7a" stroke-width="1"/>
<line x1="308.8" y1="536.69" x2="310.4" y2="536.69" stroke="#7a7a7a" stroke-width="0.9"/>
<line x1="308.8" y1="530.37" x2="310.4" y2="530.37" stroke="#7a7a7a" stroke-width="0.9"/>
<line x1="308.8" y1="524.05" x2="310.4" y2="524.05" stroke="#7a7a7a" stroke-width="0.9"/>
<line x1="307.2" y1="517.73" x2="310.4" y2="517.73" stroke="#7a7a7a" stroke-width="1"/>
<line x1="308.8" y1="511.41" x2="310.4" y2="511.41" stroke="#7a7a7a" stroke-width="0.9"/>
<line x1="308.8" y1="505.09" x2="310.4" y2="505.09" stroke="#7a7a7a" stroke-width="0.9"/>
<line x1="308.8" y1="498.76" x2="310.4" y2="498.76" stroke="#7a7a7a" stroke-width="0.9"/>
<line x1="307.2" y1="492.44" x2="310.4" y2="492.44" stroke="#7a7a7a" stroke-width="1"/>
<line x1="308.8" y1="486.12" x2="310.4" y2="486.12" stroke="#7a7a7a" stroke-width="0.9"/>
<line x1="308.8" y1="479.8" x2="310.4" y2="479.8" stroke="#7a7a7a" stroke-width="0.9"/>
<line x1="308.8" y1="473.48" x2="310.4" y2="473.48" stroke="#7a7a7a" stroke-width="0.9"/>
<line x1="307.2" y1="467.16" x2="310.4" y2="467.16" stroke="#7a7a7a" stroke-width="1"/>
<line x1="308.8" y1="460.84" x2="310.4" y2="460.84" stroke="#7a7a7a" stroke-width="0.9"/>
<line x1="308.8" y1="454.51" x2="310.4" y2="454.51" stroke="#7a7a7a" stroke-width="0.9"/>
<line x1="308.8" y1="448.19" x2="310.4" y2="448.19" stroke="#7a7a7a" stroke-width="0.9"/>
<line x1="307.2" y1="441.87" x2="310.4" y2="441.87" stroke="#7a7a7a" stroke-width="1"/>
<line x1="308.8" y1="435.55" x2="310.4" y2="435.55" stroke="#7a7a7a" stroke-width="0.9"/>
<line x1="308.8" y1="429.23" x2="310.4" y2="429.23" stroke="#7a7a7a" stroke-width="0.9"/>
<line x1="308.8" y1="422.91" x2="310.4" y2="422.91" stroke="#7a7a7a" stroke-width="0.9"/>
<line x1="307.2" y1="416.59" x2="310.4" y2="416.59" stroke="#7a7a7a" stroke-width="1"/>
<line x1="308.8" y1="410.26" x2="310.4" y2="410.26" stroke="#7a7a7a" stroke-width="0.9"/>
<line x1="308.8" y1="403.94" x2="310.4" y2="403.94" stroke="#7a7a7a" stroke-width="0.9"/>
<line x1="308.8" y1="397.62" x2="310.4" y2="397.62" stroke="#7a7a7a" stroke-width="0.9"/>
<line x1="307.2" y1="391.3" x2="310.4" y2="391.3" stroke="#7a7a7a" stroke-width="1"/>
<line x1="310.4" y1="568.3" x2="310.4" y2="571.1" stroke="#7a7a7a" stroke-width="1"/>
<line x1="319.13" y1="568.3" x2="319.13" y2="570.2" stroke="#7a7a7a" stroke-width="0.9"/>
<line x1="327.86" y1="568.3" x2="327.86" y2="570.2" stroke="#7a7a7a" stroke-width="0.9"/>
<line x1="336.59" y1="568.3" x2="336.59" y2="570.2" stroke="#7a7a7a" stroke-width="0.9"/>
<line x1="345.31" y1="568.3" x2="345.31" y2="570.2" stroke="#7a7a7a" stroke-width="0.9"/>
<line x1="354.04" y1="568.3" x2="354.04" y2="570.2" stroke="#7a7a7a" stroke-width="0.9"/>
<line x1="362.77" y1="568.3" x2="362.77" y2="570.2" stroke="#7a7a7a" stroke-width="0.9"/>
<line x1="371.5" y1="568.3" x2="371.5" y2="571.1" stroke="#7a7a7a" stroke-width="1"/>
<line x1="380.23" y1="568.3" x2="380.23" y2="570.2" stroke="#7a7a7a" stroke-width="0.9"/>
<line x1="388.96" y1="568.3" x2="388.96" y2="570.2" stroke="#7a7a7a" stroke-width="0.9"/>
<line x1="397.69" y1="568.3" x2="397.69" y2="570.2" stroke="#7a7a7a" stroke-width="0.9"/>
<line x1="406.41" y1="568.3" x2="406.41" y2="570.2" stroke="#7a7a7a" stroke-width="0.9"/>
<line x1="415.14" y1="568.3" x2="415.14" y2="570.2" stroke="#7a7a7a" stroke-width="0.9"/>
<line x1="423.87" y1="568.3" x2="423.87" y2="570.2" stroke="#7a7a7a" stroke-width="0.9"/>
<line x1="432.6" y1="568.3" x2="432.6" y2="571.1" stroke="#7a7a7a" stroke-width="1"/>
<line x1="441.33" y1="568.3" x2="441.33" y2="570.2" stroke="#7a7a7a" stroke-width="0.9"/>
<line x1="450.06" y1="568.3" x2="450.06" y2="570.2" stroke="#7a7a7a" stroke-width="0.9"/>
<line x1="458.79" y1="568.3" x2="458.79" y2="570.2" stroke="#7a7a7a" stroke-width="0.9"/>
<line x1="467.51" y1="568.3" x2="467.51" y2="570.2" stroke="#7a7a7a" stroke-width="0.9"/>
<line x1="476.24" y1="568.3" x2="476.24" y2="570.2" stroke="#7a7a7a" stroke-width="0.9"/>
<line x1="484.97" y1="568.3" x2="484.97" y2="570.2" stroke="#7a7a7a" stroke-width="0.9"/>
<line x1="493.7" y1="568.3" x2="493.7" y2="571.1" stroke="#7a7a7a" stroke-width="1"/>
<text transform="translate(297.69 570.3) scale(1.0000 1)" font-size="9.3" font-weight="normal" fill="#1a1a1a" stroke="#1a1a1a" stroke-width="0.28">0</text>
<text transform="translate(287.35 545.01) scale(1.0000 1)" font-size="9.3" font-weight="normal" fill="#1a1a1a" stroke="#1a1a1a" stroke-width="0.28">200</text>
<text transform="translate(287.35 519.72) scale(1.0000 1)" font-size="9.3" font-weight="normal" fill="#1a1a1a" stroke="#1a1a1a" stroke-width="0.28">400</text>
<text transform="translate(287.35 494.44) scale(1.0000 1)" font-size="9.3" font-weight="normal" fill="#1a1a1a" stroke="#1a1a1a" stroke-width="0.28">600</text>
<text transform="translate(287.35 469.15) scale(1.0000 1)" font-size="9.3" font-weight="normal" fill="#1a1a1a" stroke="#1a1a1a" stroke-width="0.28">800</text>
<text transform="translate(279.59 443.87) scale(1.0000 1)" font-size="9.3" font-weight="normal" fill="#1a1a1a" stroke="#1a1a1a" stroke-width="0.28">1,000</text>
<text transform="translate(279.59 418.58) scale(1.0000 1)" font-size="9.3" font-weight="normal" fill="#1a1a1a" stroke="#1a1a1a" stroke-width="0.28">1,200</text>
<text transform="translate(279.59 393.3) scale(1.0000 1)" font-size="9.3" font-weight="normal" fill="#1a1a1a" stroke="#1a1a1a" stroke-width="0.28">1,400</text>
<text transform="translate(307.81 580.85) scale(1.0000 1)" font-size="9.3" font-weight="normal" fill="#1a1a1a" stroke="#1a1a1a" stroke-width="0.28">0</text>
<text transform="translate(368.91 580.85) scale(1.0000 1)" font-size="9.3" font-weight="normal" fill="#1a1a1a" stroke="#1a1a1a" stroke-width="0.28">7</text>
<text transform="translate(427.21 580.85) scale(1.0000 1)" font-size="9.3" font-weight="normal" fill="#1a1a1a" stroke="#1a1a1a" stroke-width="0.28">14</text>
<text transform="translate(488.52 580.85) scale(1.0000 1)" font-size="9.3" font-weight="normal" fill="#1a1a1a" stroke="#1a1a1a" stroke-width="0.28">21</text>
<text transform="translate(149.36 335.8) scale(1.0400 1)" font-size="11.2" font-weight="bold" fill="#111" stroke="#111" stroke-width="0.1">Day</text>
<text transform="translate(395.26 335.8) scale(1.0400 1)" font-size="11.2" font-weight="bold" fill="#111" stroke="#111" stroke-width="0.1">Day</text>
<text transform="translate(149.26 592.1) scale(1.0400 1)" font-size="11.2" font-weight="bold" fill="#111" stroke="#111" stroke-width="0.1">Day</text>
<text transform="translate(395.06 592.1) scale(1.0400 1)" font-size="11.2" font-weight="bold" fill="#111" stroke="#111" stroke-width="0.1">Day</text>
<line x1="75.8" y1="283" x2="75.8" y2="291" stroke="#9a9cb0" stroke-width="0.8"/>
<line x1="74.5" y1="283" x2="77.1" y2="283" stroke="#9a9cb0" stroke-width="0.8"/>
<line x1="74.5" y1="291" x2="77.1" y2="291" stroke="#9a9cb0" stroke-width="0.8"/>
<line x1="93.3" y1="245.8" x2="93.3" y2="259.8" stroke="#9a9cb0" stroke-width="0.8"/>
<line x1="92" y1="245.8" x2="94.6" y2="245.8" stroke="#9a9cb0" stroke-width="0.8"/>
<line x1="92" y1="259.8" x2="94.6" y2="259.8" stroke="#9a9cb0" stroke-width="0.8"/>
<line x1="104.1" y1="217.7" x2="104.1" y2="235.7" stroke="#9a9cb0" stroke-width="0.8"/>
<line x1="102.8" y1="217.7" x2="105.4" y2="217.7" stroke="#9a9cb0" stroke-width="0.8"/>
<line x1="102.8" y1="235.7" x2="105.4" y2="235.7" stroke="#9a9cb0" stroke-width="0.8"/>
<line x1="118.2" y1="176.3" x2="118.2" y2="204.3" stroke="#9a9cb0" stroke-width="0.8"/>
<line x1="116.9" y1="176.3" x2="119.5" y2="176.3" stroke="#9a9cb0" stroke-width="0.8"/>
<line x1="116.9" y1="204.3" x2="119.5" y2="204.3" stroke="#9a9cb0" stroke-width="0.8"/>
<line x1="129" y1="164.1" x2="129" y2="188.1" stroke="#9a9cb0" stroke-width="0.8"/>
<line x1="127.7" y1="164.1" x2="130.3" y2="164.1" stroke="#9a9cb0" stroke-width="0.8"/>
<line x1="127.7" y1="188.1" x2="130.3" y2="188.1" stroke="#9a9cb0" stroke-width="0.8"/>
<line x1="75.8" y1="292" x2="75.8" y2="304" stroke="#b89096" stroke-width="0.8"/>
<line x1="74.5" y1="292" x2="77.1" y2="292" stroke="#b89096" stroke-width="0.8"/>
<line x1="74.5" y1="304" x2="77.1" y2="304" stroke="#b89096" stroke-width="0.8"/>
<line x1="92.8" y1="298" x2="92.8" y2="308" stroke="#b89096" stroke-width="0.8"/>
<line x1="91.5" y1="298" x2="94.1" y2="298" stroke="#b89096" stroke-width="0.8"/>
<line x1="91.5" y1="308" x2="94.1" y2="308" stroke="#b89096" stroke-width="0.8"/>
<line x1="103.8" y1="302.1" x2="103.8" y2="308.1" stroke="#b89096" stroke-width="0.8"/>
<line x1="102.5" y1="302.1" x2="105.1" y2="302.1" stroke="#b89096" stroke-width="0.8"/>
<line x1="102.5" y1="308.1" x2="105.1" y2="308.1" stroke="#b89096" stroke-width="0.8"/>
<line x1="117.7" y1="301.8" x2="117.7" y2="305.8" stroke="#b89096" stroke-width="0.8"/>
<line x1="116.4" y1="301.8" x2="119" y2="301.8" stroke="#b89096" stroke-width="0.8"/>
<line x1="116.4" y1="305.8" x2="119" y2="305.8" stroke="#b89096" stroke-width="0.8"/>
<line x1="75.8" y1="295.6" x2="75.8" y2="301.6" stroke="#90a898" stroke-width="0.8"/>
<line x1="74.5" y1="295.6" x2="77.1" y2="295.6" stroke="#90a898" stroke-width="0.8"/>
<line x1="74.5" y1="301.6" x2="77.1" y2="301.6" stroke="#90a898" stroke-width="0.8"/>
<line x1="92.8" y1="300.4" x2="92.8" y2="306.4" stroke="#90a898" stroke-width="0.8"/>
<line x1="91.5" y1="300.4" x2="94.1" y2="300.4" stroke="#90a898" stroke-width="0.8"/>
<line x1="91.5" y1="306.4" x2="94.1" y2="306.4" stroke="#90a898" stroke-width="0.8"/>
<line x1="103.9" y1="303.6" x2="103.9" y2="307.6" stroke="#90a898" stroke-width="0.8"/>
<line x1="102.6" y1="303.6" x2="105.2" y2="303.6" stroke="#90a898" stroke-width="0.8"/>
<line x1="102.6" y1="307.6" x2="105.2" y2="307.6" stroke="#90a898" stroke-width="0.8"/>
<line x1="75.8" y1="276.2" x2="75.8" y2="286.2" stroke="#8a8a8a" stroke-width="0.8"/>
<line x1="74.5" y1="276.2" x2="77.1" y2="276.2" stroke="#8a8a8a" stroke-width="0.8"/>
<line x1="74.5" y1="286.2" x2="77.1" y2="286.2" stroke="#8a8a8a" stroke-width="0.8"/>
<line x1="93.2" y1="237.3" x2="93.2" y2="251.3" stroke="#8a8a8a" stroke-width="0.8"/>
<line x1="91.9" y1="237.3" x2="94.5" y2="237.3" stroke="#8a8a8a" stroke-width="0.8"/>
<line x1="91.9" y1="251.3" x2="94.5" y2="251.3" stroke="#8a8a8a" stroke-width="0.8"/>
<line x1="103.9" y1="208" x2="103.9" y2="228" stroke="#8a8a8a" stroke-width="0.8"/>
<line x1="102.6" y1="208" x2="105.2" y2="208" stroke="#8a8a8a" stroke-width="0.8"/>
<line x1="102.6" y1="228" x2="105.2" y2="228" stroke="#8a8a8a" stroke-width="0.8"/>
<line x1="118.3" y1="131.6" x2="118.3" y2="170.5" stroke="#8a8a8a" stroke-width="0.8"/>
<line x1="117" y1="131.6" x2="119.6" y2="131.6" stroke="#8a8a8a" stroke-width="0.8"/>
<line x1="117" y1="170.5" x2="119.6" y2="170.5" stroke="#8a8a8a" stroke-width="0.8"/>
<polyline points="64.9,296.3 75.8,287 93.3,252.8 104.1,226.7 118.2,190.3 129,176.1" fill="none" stroke="#2c3d94" stroke-width="1.45" stroke-linejoin="round"/>
<polyline points="64.9,296.3 75.8,298 92.8,303 103.8,305.1 117.7,303.8 129,301.3 142.7,292.3 153.7,282.7 167.7,260.3" fill="none" stroke="#d0283a" stroke-width="1.45" stroke-linejoin="round"/>
<polyline points="64.9,296.3 75.8,298.6 92.8,303.4 103.9,305.6 117.6,307.7 129.1,307.2 142.8,306.8 153.8,305.1 167.2,302.3 178.1,299.3 192.6,292.4 202.8,299.3 217.3,294.9 228.2,284.3 241.5,297" fill="none" stroke="#14854a" stroke-width="1.45" stroke-linejoin="round"/>
<polyline points="64.9,296.3 75.8,281.2 93.2,244.3 103.9,218 118.3,151" fill="none" stroke="#111" stroke-width="1.45" stroke-linejoin="round"/>
<circle cx="64.9" cy="296.3" r="2.15" fill="#fff" stroke="#111" stroke-width="0.9"/>
<circle cx="75.8" cy="281.2" r="2.15" fill="#fff" stroke="#111" stroke-width="0.9"/>
<circle cx="93.2" cy="244.3" r="2.15" fill="#fff" stroke="#111" stroke-width="0.9"/>
<circle cx="103.9" cy="218" r="2.15" fill="#fff" stroke="#111" stroke-width="0.9"/>
<circle cx="118.3" cy="151" r="2.15" fill="#fff" stroke="#111" stroke-width="0.9"/>
<circle cx="64.9" cy="296.3" r="2.6" fill="#26368c"/>
<circle cx="75.8" cy="287" r="2.6" fill="#26368c"/>
<circle cx="93.3" cy="252.8" r="2.6" fill="#26368c"/>
<circle cx="104.1" cy="226.7" r="2.6" fill="#26368c"/>
<circle cx="118.2" cy="190.3" r="2.6" fill="#26368c"/>
<circle cx="129" cy="176.1" r="2.6" fill="#26368c"/>
<path d="M64.9 293.9l2.3 3.9h-4.6z" fill="#c8202f"/>
<path d="M75.8 295.6l2.3 3.9h-4.6z" fill="#c8202f"/>
<path d="M92.8 300.6l2.3 3.9h-4.6z" fill="#c8202f"/>
<path d="M103.8 302.7l2.3 3.9h-4.6z" fill="#c8202f"/>
<path d="M117.7 301.4l2.3 3.9h-4.6z" fill="#c8202f"/>
<path d="M129 298.9l2.3 3.9h-4.6z" fill="#c8202f"/>
<path d="M142.7 289.9l2.3 3.9h-4.6z" fill="#c8202f"/>
<path d="M153.7 280.3l2.3 3.9h-4.6z" fill="#c8202f"/>
<path d="M167.7 257.9l2.3 3.9h-4.6z" fill="#c8202f"/>
<path d="M64.9 293.6l2.9 2.7l-2.9 2.7l-2.9 -2.7z" fill="#0e6e3c"/>
<path d="M75.8 295.9l2.9 2.7l-2.9 2.7l-2.9 -2.7z" fill="#0e6e3c"/>
<path d="M92.8 300.7l2.9 2.7l-2.9 2.7l-2.9 -2.7z" fill="#0e6e3c"/>
<path d="M103.9 302.9l2.9 2.7l-2.9 2.7l-2.9 -2.7z" fill="#0e6e3c"/>
<path d="M117.6 305l2.9 2.7l-2.9 2.7l-2.9 -2.7z" fill="#0e6e3c"/>
<path d="M129.1 304.5l2.9 2.7l-2.9 2.7l-2.9 -2.7z" fill="#0e6e3c"/>
<path d="M142.8 304.1l2.9 2.7l-2.9 2.7l-2.9 -2.7z" fill="#0e6e3c"/>
<path d="M153.8 302.4l2.9 2.7l-2.9 2.7l-2.9 -2.7z" fill="#0e6e3c"/>
<path d="M167.2 299.6l2.9 2.7l-2.9 2.7l-2.9 -2.7z" fill="#0e6e3c"/>
<path d="M178.1 296.6l2.9 2.7l-2.9 2.7l-2.9 -2.7z" fill="#0e6e3c"/>
<path d="M192.6 289.7l2.9 2.7l-2.9 2.7l-2.9 -2.7z" fill="#0e6e3c"/>
<path d="M202.8 296.6l2.9 2.7l-2.9 2.7l-2.9 -2.7z" fill="#0e6e3c"/>
<path d="M217.3 292.2l2.9 2.7l-2.9 2.7l-2.9 -2.7z" fill="#0e6e3c"/>
<path d="M228.2 281.6l2.9 2.7l-2.9 2.7l-2.9 -2.7z" fill="#0e6e3c"/>
<path d="M241.5 294.3l2.9 2.7l-2.9 2.7l-2.9 -2.7z" fill="#0e6e3c"/>
<line x1="397.8" y1="254.7" x2="397.8" y2="266.7" stroke="#9a9cb0" stroke-width="0.8"/>
<line x1="396.5" y1="254.7" x2="399.1" y2="254.7" stroke="#9a9cb0" stroke-width="0.8"/>
<line x1="396.5" y1="266.7" x2="399.1" y2="266.7" stroke="#9a9cb0" stroke-width="0.8"/>
<line x1="424.4" y1="214.7" x2="424.4" y2="234.7" stroke="#9a9cb0" stroke-width="0.8"/>
<line x1="423.1" y1="214.7" x2="425.7" y2="214.7" stroke="#9a9cb0" stroke-width="0.8"/>
<line x1="423.1" y1="234.7" x2="425.7" y2="234.7" stroke="#9a9cb0" stroke-width="0.8"/>
<line x1="459" y1="210.7" x2="459" y2="234.7" stroke="#9a9cb0" stroke-width="0.8"/>
<line x1="457.7" y1="210.7" x2="460.3" y2="210.7" stroke="#9a9cb0" stroke-width="0.8"/>
<line x1="457.7" y1="234.7" x2="460.3" y2="234.7" stroke="#9a9cb0" stroke-width="0.8"/>
<line x1="485.5" y1="188.7" x2="485.5" y2="224.7" stroke="#9a9cb0" stroke-width="0.8"/>
<line x1="484.2" y1="188.7" x2="486.8" y2="188.7" stroke="#9a9cb0" stroke-width="0.8"/>
<line x1="484.2" y1="224.7" x2="486.8" y2="224.7" stroke="#9a9cb0" stroke-width="0.8"/>
<line x1="397.8" y1="256.9" x2="397.8" y2="272.9" stroke="#b89096" stroke-width="0.8"/>
<line x1="396.5" y1="256.9" x2="399.1" y2="256.9" stroke="#b89096" stroke-width="0.8"/>
<line x1="396.5" y1="272.9" x2="399.1" y2="272.9" stroke="#b89096" stroke-width="0.8"/>
<line x1="424.2" y1="227.3" x2="424.2" y2="257.3" stroke="#b89096" stroke-width="0.8"/>
<line x1="422.9" y1="227.3" x2="425.5" y2="227.3" stroke="#b89096" stroke-width="0.8"/>
<line x1="422.9" y1="257.3" x2="425.5" y2="257.3" stroke="#b89096" stroke-width="0.8"/>
<line x1="459" y1="214.6" x2="459" y2="246.6" stroke="#b89096" stroke-width="0.8"/>
<line x1="457.7" y1="214.6" x2="460.3" y2="214.6" stroke="#b89096" stroke-width="0.8"/>
<line x1="457.7" y1="246.6" x2="460.3" y2="246.6" stroke="#b89096" stroke-width="0.8"/>
<line x1="485.5" y1="203.3" x2="485.5" y2="243.3" stroke="#b89096" stroke-width="0.8"/>
<line x1="484.2" y1="203.3" x2="486.8" y2="203.3" stroke="#b89096" stroke-width="0.8"/>
<line x1="484.2" y1="243.3" x2="486.8" y2="243.3" stroke="#b89096" stroke-width="0.8"/>
<line x1="397.8" y1="277.1" x2="397.8" y2="285.1" stroke="#90a898" stroke-width="0.8"/>
<line x1="396.5" y1="277.1" x2="399.1" y2="277.1" stroke="#90a898" stroke-width="0.8"/>
<line x1="396.5" y1="285.1" x2="399.1" y2="285.1" stroke="#90a898" stroke-width="0.8"/>
<line x1="424.2" y1="264.2" x2="424.2" y2="278.2" stroke="#90a898" stroke-width="0.8"/>
<line x1="422.9" y1="264.2" x2="425.5" y2="264.2" stroke="#90a898" stroke-width="0.8"/>
<line x1="422.9" y1="278.2" x2="425.5" y2="278.2" stroke="#90a898" stroke-width="0.8"/>
<line x1="459" y1="255.4" x2="459" y2="275.4" stroke="#90a898" stroke-width="0.8"/>
<line x1="457.7" y1="255.4" x2="460.3" y2="255.4" stroke="#90a898" stroke-width="0.8"/>
<line x1="457.7" y1="275.4" x2="460.3" y2="275.4" stroke="#90a898" stroke-width="0.8"/>
<line x1="485.6" y1="234.5" x2="485.6" y2="262.5" stroke="#90a898" stroke-width="0.8"/>
<line x1="484.3" y1="234.5" x2="486.9" y2="234.5" stroke="#90a898" stroke-width="0.8"/>
<line x1="484.3" y1="262.5" x2="486.9" y2="262.5" stroke="#90a898" stroke-width="0.8"/>
<line x1="362.9" y1="274" x2="362.9" y2="280" stroke="#8a8a8a" stroke-width="0.8"/>
<line x1="361.6" y1="274" x2="364.2" y2="274" stroke="#8a8a8a" stroke-width="0.8"/>
<line x1="361.6" y1="280" x2="364.2" y2="280" stroke="#8a8a8a" stroke-width="0.8"/>
<line x1="397.8" y1="248.6" x2="397.8" y2="260.6" stroke="#8a8a8a" stroke-width="0.8"/>
<line x1="396.5" y1="248.6" x2="399.1" y2="248.6" stroke="#8a8a8a" stroke-width="0.8"/>
<line x1="396.5" y1="260.6" x2="399.1" y2="260.6" stroke="#8a8a8a" stroke-width="0.8"/>
<line x1="424.2" y1="202.3" x2="424.2" y2="220.3" stroke="#8a8a8a" stroke-width="0.8"/>
<line x1="422.9" y1="202.3" x2="425.5" y2="202.3" stroke="#8a8a8a" stroke-width="0.8"/>
<line x1="422.9" y1="220.3" x2="425.5" y2="220.3" stroke="#8a8a8a" stroke-width="0.8"/>
<line x1="459" y1="179" x2="459" y2="203" stroke="#8a8a8a" stroke-width="0.8"/>
<line x1="457.7" y1="179" x2="460.3" y2="179" stroke="#8a8a8a" stroke-width="0.8"/>
<line x1="457.7" y1="203" x2="460.3" y2="203" stroke="#8a8a8a" stroke-width="0.8"/>
<line x1="485.6" y1="140.3" x2="485.6" y2="186.3" stroke="#8a8a8a" stroke-width="0.8"/>
<line x1="484.3" y1="140.3" x2="486.9" y2="140.3" stroke="#8a8a8a" stroke-width="0.8"/>
<line x1="484.3" y1="186.3" x2="486.9" y2="186.3" stroke="#8a8a8a" stroke-width="0.8"/>
<polyline points="319.1,292 345.7,284.5 362.9,279.1 397.8,260.7 424.4,224.7 459,222.7 485.5,206.7" fill="none" stroke="#2c3d94" stroke-width="1.45" stroke-linejoin="round"/>
<polyline points="319.1,292 345.7,286.2 362.9,281.9 397.8,264.9 424.2,242.3 459,230.6 485.5,223.3" fill="none" stroke="#d0283a" stroke-width="1.45" stroke-linejoin="round"/>
<polyline points="319.1,292 345.7,290 362.9,288 397.8,281.1 424.2,271.2 459,265.4 485.6,248.5" fill="none" stroke="#14854a" stroke-width="1.45" stroke-linejoin="round"/>
<polyline points="319.1,292 345.7,283.5 362.9,277 397.8,254.6 424.2,211.3 459,191 485.6,163.3" fill="none" stroke="#111" stroke-width="1.45" stroke-linejoin="round"/>
<circle cx="319.1" cy="292" r="2.15" fill="#fff" stroke="#111" stroke-width="0.9"/>
<circle cx="345.7" cy="283.5" r="2.15" fill="#fff" stroke="#111" stroke-width="0.9"/>
<circle cx="362.9" cy="277" r="2.15" fill="#fff" stroke="#111" stroke-width="0.9"/>
<circle cx="397.8" cy="254.6" r="2.15" fill="#fff" stroke="#111" stroke-width="0.9"/>
<circle cx="424.2" cy="211.3" r="2.15" fill="#fff" stroke="#111" stroke-width="0.9"/>
<circle cx="459" cy="191" r="2.15" fill="#fff" stroke="#111" stroke-width="0.9"/>
<circle cx="485.6" cy="163.3" r="2.15" fill="#fff" stroke="#111" stroke-width="0.9"/>
<circle cx="319.1" cy="292" r="2.6" fill="#26368c"/>
<circle cx="345.7" cy="284.5" r="2.6" fill="#26368c"/>
<circle cx="362.9" cy="279.1" r="2.6" fill="#26368c"/>
<circle cx="397.8" cy="260.7" r="2.6" fill="#26368c"/>
<circle cx="424.4" cy="224.7" r="2.6" fill="#26368c"/>
<circle cx="459" cy="222.7" r="2.6" fill="#26368c"/>
<circle cx="485.5" cy="206.7" r="2.6" fill="#26368c"/>
<path d="M319.1 289.6l2.3 3.9h-4.6z" fill="#c8202f"/>
<path d="M345.7 283.8l2.3 3.9h-4.6z" fill="#c8202f"/>
<path d="M362.9 279.5l2.3 3.9h-4.6z" fill="#c8202f"/>
<path d="M397.8 262.5l2.3 3.9h-4.6z" fill="#c8202f"/>
<path d="M424.2 239.9l2.3 3.9h-4.6z" fill="#c8202f"/>
<path d="M459 228.2l2.3 3.9h-4.6z" fill="#c8202f"/>
<path d="M485.5 220.9l2.3 3.9h-4.6z" fill="#c8202f"/>
<path d="M319.1 289.3l2.9 2.7l-2.9 2.7l-2.9 -2.7z" fill="#0e6e3c"/>
<path d="M345.7 287.3l2.9 2.7l-2.9 2.7l-2.9 -2.7z" fill="#0e6e3c"/>
<path d="M362.9 285.3l2.9 2.7l-2.9 2.7l-2.9 -2.7z" fill="#0e6e3c"/>
<path d="M397.8 278.4l2.9 2.7l-2.9 2.7l-2.9 -2.7z" fill="#0e6e3c"/>
<path d="M424.2 268.5l2.9 2.7l-2.9 2.7l-2.9 -2.7z" fill="#0e6e3c"/>
<path d="M459 262.7l2.9 2.7l-2.9 2.7l-2.9 -2.7z" fill="#0e6e3c"/>
<path d="M485.6 245.8l2.9 2.7l-2.9 2.7l-2.9 -2.7z" fill="#0e6e3c"/>
<line x1="99.6" y1="533.8" x2="99.6" y2="543.8" stroke="#9a9cb0" stroke-width="0.8"/>
<line x1="98.3" y1="533.8" x2="100.9" y2="533.8" stroke="#9a9cb0" stroke-width="0.8"/>
<line x1="98.3" y1="543.8" x2="100.9" y2="543.8" stroke="#9a9cb0" stroke-width="0.8"/>
<line x1="126.2" y1="527.5" x2="126.2" y2="539.5" stroke="#9a9cb0" stroke-width="0.8"/>
<line x1="124.9" y1="527.5" x2="127.5" y2="527.5" stroke="#9a9cb0" stroke-width="0.8"/>
<line x1="124.9" y1="539.5" x2="127.5" y2="539.5" stroke="#9a9cb0" stroke-width="0.8"/>
<line x1="160.8" y1="521.2" x2="160.8" y2="537.2" stroke="#9a9cb0" stroke-width="0.8"/>
<line x1="159.5" y1="521.2" x2="162.1" y2="521.2" stroke="#9a9cb0" stroke-width="0.8"/>
<line x1="159.5" y1="537.2" x2="162.1" y2="537.2" stroke="#9a9cb0" stroke-width="0.8"/>
<line x1="186.2" y1="502.9" x2="186.2" y2="530.9" stroke="#9a9cb0" stroke-width="0.8"/>
<line x1="184.9" y1="502.9" x2="187.5" y2="502.9" stroke="#9a9cb0" stroke-width="0.8"/>
<line x1="184.9" y1="530.9" x2="187.5" y2="530.9" stroke="#9a9cb0" stroke-width="0.8"/>
<line x1="221.5" y1="482.3" x2="221.5" y2="522.3" stroke="#9a9cb0" stroke-width="0.8"/>
<line x1="220.2" y1="482.3" x2="222.8" y2="482.3" stroke="#9a9cb0" stroke-width="0.8"/>
<line x1="220.2" y1="522.3" x2="222.8" y2="522.3" stroke="#9a9cb0" stroke-width="0.8"/>
<line x1="247.7" y1="462" x2="247.7" y2="518" stroke="#9a9cb0" stroke-width="0.8"/>
<line x1="246.4" y1="462" x2="249" y2="462" stroke="#9a9cb0" stroke-width="0.8"/>
<line x1="246.4" y1="518" x2="249" y2="518" stroke="#9a9cb0" stroke-width="0.8"/>
<line x1="99.6" y1="531.5" x2="99.6" y2="541.5" stroke="#b89096" stroke-width="0.8"/>
<line x1="98.3" y1="531.5" x2="100.9" y2="531.5" stroke="#b89096" stroke-width="0.8"/>
<line x1="98.3" y1="541.5" x2="100.9" y2="541.5" stroke="#b89096" stroke-width="0.8"/>
<line x1="126.2" y1="521.3" x2="126.2" y2="533.3" stroke="#b89096" stroke-width="0.8"/>
<line x1="124.9" y1="521.3" x2="127.5" y2="521.3" stroke="#b89096" stroke-width="0.8"/>
<line x1="124.9" y1="533.3" x2="127.5" y2="533.3" stroke="#b89096" stroke-width="0.8"/>
<line x1="160.8" y1="514.7" x2="160.8" y2="530.7" stroke="#b89096" stroke-width="0.8"/>
<line x1="159.5" y1="514.7" x2="162.1" y2="514.7" stroke="#b89096" stroke-width="0.8"/>
<line x1="159.5" y1="530.7" x2="162.1" y2="530.7" stroke="#b89096" stroke-width="0.8"/>
<line x1="186.2" y1="483.1" x2="186.2" y2="513.1" stroke="#b89096" stroke-width="0.8"/>
<line x1="184.9" y1="483.1" x2="187.5" y2="483.1" stroke="#b89096" stroke-width="0.8"/>
<line x1="184.9" y1="513.1" x2="187.5" y2="513.1" stroke="#b89096" stroke-width="0.8"/>
<line x1="221.4" y1="462.2" x2="221.4" y2="498.2" stroke="#b89096" stroke-width="0.8"/>
<line x1="220.1" y1="462.2" x2="222.7" y2="462.2" stroke="#b89096" stroke-width="0.8"/>
<line x1="220.1" y1="498.2" x2="222.7" y2="498.2" stroke="#b89096" stroke-width="0.8"/>
<line x1="247.9" y1="439.6" x2="247.9" y2="489.6" stroke="#b89096" stroke-width="0.8"/>
<line x1="246.6" y1="439.6" x2="249.2" y2="439.6" stroke="#b89096" stroke-width="0.8"/>
<line x1="246.6" y1="489.6" x2="249.2" y2="489.6" stroke="#b89096" stroke-width="0.8"/>
<line x1="99.6" y1="534.6" x2="99.6" y2="544.6" stroke="#90a898" stroke-width="0.8"/>
<line x1="98.3" y1="534.6" x2="100.9" y2="534.6" stroke="#90a898" stroke-width="0.8"/>
<line x1="98.3" y1="544.6" x2="100.9" y2="544.6" stroke="#90a898" stroke-width="0.8"/>
<line x1="126.2" y1="537.3" x2="126.2" y2="547.3" stroke="#90a898" stroke-width="0.8"/>
<line x1="124.9" y1="537.3" x2="127.5" y2="537.3" stroke="#90a898" stroke-width="0.8"/>
<line x1="124.9" y1="547.3" x2="127.5" y2="547.3" stroke="#90a898" stroke-width="0.8"/>
<line x1="160.8" y1="538.5" x2="160.8" y2="548.5" stroke="#90a898" stroke-width="0.8"/>
<line x1="159.5" y1="538.5" x2="162.1" y2="538.5" stroke="#90a898" stroke-width="0.8"/>
<line x1="159.5" y1="548.5" x2="162.1" y2="548.5" stroke="#90a898" stroke-width="0.8"/>
<line x1="186.2" y1="530.2" x2="186.2" y2="542.2" stroke="#90a898" stroke-width="0.8"/>
<line x1="184.9" y1="530.2" x2="187.5" y2="530.2" stroke="#90a898" stroke-width="0.8"/>
<line x1="184.9" y1="542.2" x2="187.5" y2="542.2" stroke="#90a898" stroke-width="0.8"/>
<line x1="221.5" y1="526.1" x2="221.5" y2="540.1" stroke="#90a898" stroke-width="0.8"/>
<line x1="220.2" y1="526.1" x2="222.8" y2="526.1" stroke="#90a898" stroke-width="0.8"/>
<line x1="220.2" y1="540.1" x2="222.8" y2="540.1" stroke="#90a898" stroke-width="0.8"/>
<line x1="247.7" y1="523.8" x2="247.7" y2="537.8" stroke="#90a898" stroke-width="0.8"/>
<line x1="246.4" y1="523.8" x2="249" y2="523.8" stroke="#90a898" stroke-width="0.8"/>
<line x1="246.4" y1="537.8" x2="249" y2="537.8" stroke="#90a898" stroke-width="0.8"/>
<line x1="99.6" y1="522.5" x2="99.6" y2="540.5" stroke="#8a8a8a" stroke-width="0.8"/>
<line x1="98.3" y1="522.5" x2="100.9" y2="522.5" stroke="#8a8a8a" stroke-width="0.8"/>
<line x1="98.3" y1="540.5" x2="100.9" y2="540.5" stroke="#8a8a8a" stroke-width="0.8"/>
<line x1="126.2" y1="503.1" x2="126.2" y2="523.1" stroke="#8a8a8a" stroke-width="0.8"/>
<line x1="124.9" y1="503.1" x2="127.5" y2="503.1" stroke="#8a8a8a" stroke-width="0.8"/>
<line x1="124.9" y1="523.1" x2="127.5" y2="523.1" stroke="#8a8a8a" stroke-width="0.8"/>
<line x1="160.8" y1="492" x2="160.8" y2="515" stroke="#8a8a8a" stroke-width="0.8"/>
<line x1="159.5" y1="492" x2="162.1" y2="492" stroke="#8a8a8a" stroke-width="0.8"/>
<line x1="159.5" y1="515" x2="162.1" y2="515" stroke="#8a8a8a" stroke-width="0.8"/>
<line x1="186.4" y1="443.4" x2="186.4" y2="466" stroke="#8a8a8a" stroke-width="0.8"/>
<line x1="185.1" y1="443.4" x2="187.7" y2="443.4" stroke="#8a8a8a" stroke-width="0.8"/>
<line x1="185.1" y1="466" x2="187.7" y2="466" stroke="#8a8a8a" stroke-width="0.8"/>
<line x1="221.4" y1="426.4" x2="221.4" y2="453.6" stroke="#8a8a8a" stroke-width="0.8"/>
<line x1="220.1" y1="426.4" x2="222.7" y2="426.4" stroke="#8a8a8a" stroke-width="0.8"/>
<line x1="220.1" y1="453.6" x2="222.7" y2="453.6" stroke="#8a8a8a" stroke-width="0.8"/>
<line x1="247.9" y1="405.2" x2="247.9" y2="451.2" stroke="#8a8a8a" stroke-width="0.8"/>
<line x1="246.6" y1="405.2" x2="249.2" y2="405.2" stroke="#8a8a8a" stroke-width="0.8"/>
<line x1="246.6" y1="451.2" x2="249.2" y2="451.2" stroke="#8a8a8a" stroke-width="0.8"/>
<polyline points="64.4,544.6 99.6,538.8 126.2,533.5 160.8,529.2 186.2,516.9 221.5,502.3 247.7,490" fill="none" stroke="#2c3d94" stroke-width="1.45" stroke-linejoin="round"/>
<polyline points="64.4,544.6 99.6,536.5 126.2,527.3 160.8,522.7 186.2,498.1 221.4,480.2 247.9,464.6" fill="none" stroke="#d0283a" stroke-width="1.45" stroke-linejoin="round"/>
<polyline points="64.4,544.6 99.6,539.6 126.2,542.3 160.8,543.5 186.2,536.2 221.5,533.1 247.7,530.8" fill="none" stroke="#14854a" stroke-width="1.45" stroke-linejoin="round"/>
<polyline points="64.4,544.6 99.6,531.5 126.2,513.1 160.8,503.5 186.4,454.7 221.4,440 247.9,428.2" fill="none" stroke="#111" stroke-width="1.45" stroke-linejoin="round"/>
<circle cx="64.4" cy="544.6" r="2.15" fill="#fff" stroke="#111" stroke-width="0.9"/>
<circle cx="99.6" cy="531.5" r="2.15" fill="#fff" stroke="#111" stroke-width="0.9"/>
<circle cx="126.2" cy="513.1" r="2.15" fill="#fff" stroke="#111" stroke-width="0.9"/>
<circle cx="160.8" cy="503.5" r="2.15" fill="#fff" stroke="#111" stroke-width="0.9"/>
<circle cx="186.4" cy="454.7" r="2.15" fill="#fff" stroke="#111" stroke-width="0.9"/>
<circle cx="221.4" cy="440" r="2.15" fill="#fff" stroke="#111" stroke-width="0.9"/>
<circle cx="247.9" cy="428.2" r="2.15" fill="#fff" stroke="#111" stroke-width="0.9"/>
<circle cx="64.4" cy="544.6" r="2.6" fill="#26368c"/>
<circle cx="99.6" cy="538.8" r="2.6" fill="#26368c"/>
<circle cx="126.2" cy="533.5" r="2.6" fill="#26368c"/>
<circle cx="160.8" cy="529.2" r="2.6" fill="#26368c"/>
<circle cx="186.2" cy="516.9" r="2.6" fill="#26368c"/>
<circle cx="221.5" cy="502.3" r="2.6" fill="#26368c"/>
<circle cx="247.7" cy="490" r="2.6" fill="#26368c"/>
<path d="M64.4 542.2l2.3 3.9h-4.6z" fill="#c8202f"/>
<path d="M99.6 534.1l2.3 3.9h-4.6z" fill="#c8202f"/>
<path d="M126.2 524.9l2.3 3.9h-4.6z" fill="#c8202f"/>
<path d="M160.8 520.3l2.3 3.9h-4.6z" fill="#c8202f"/>
<path d="M186.2 495.7l2.3 3.9h-4.6z" fill="#c8202f"/>
<path d="M221.4 477.8l2.3 3.9h-4.6z" fill="#c8202f"/>
<path d="M247.9 462.2l2.3 3.9h-4.6z" fill="#c8202f"/>
<path d="M64.4 541.9l2.9 2.7l-2.9 2.7l-2.9 -2.7z" fill="#0e6e3c"/>
<path d="M99.6 536.9l2.9 2.7l-2.9 2.7l-2.9 -2.7z" fill="#0e6e3c"/>
<path d="M126.2 539.6l2.9 2.7l-2.9 2.7l-2.9 -2.7z" fill="#0e6e3c"/>
<path d="M160.8 540.8l2.9 2.7l-2.9 2.7l-2.9 -2.7z" fill="#0e6e3c"/>
<path d="M186.2 533.5l2.9 2.7l-2.9 2.7l-2.9 -2.7z" fill="#0e6e3c"/>
<path d="M221.5 530.4l2.9 2.7l-2.9 2.7l-2.9 -2.7z" fill="#0e6e3c"/>
<path d="M247.7 528.1l2.9 2.7l-2.9 2.7l-2.9 -2.7z" fill="#0e6e3c"/>
<line x1="336.9" y1="533.4" x2="336.9" y2="541.4" stroke="#9a9cb0" stroke-width="0.8"/>
<line x1="335.6" y1="533.4" x2="338.2" y2="533.4" stroke="#9a9cb0" stroke-width="0.8"/>
<line x1="335.6" y1="541.4" x2="338.2" y2="541.4" stroke="#9a9cb0" stroke-width="0.8"/>
<line x1="372.3" y1="522.2" x2="372.3" y2="534.2" stroke="#9a9cb0" stroke-width="0.8"/>
<line x1="371" y1="522.2" x2="373.6" y2="522.2" stroke="#9a9cb0" stroke-width="0.8"/>
<line x1="371" y1="534.2" x2="373.6" y2="534.2" stroke="#9a9cb0" stroke-width="0.8"/>
<line x1="398.1" y1="519.7" x2="398.1" y2="533.7" stroke="#9a9cb0" stroke-width="0.8"/>
<line x1="396.8" y1="519.7" x2="399.4" y2="519.7" stroke="#9a9cb0" stroke-width="0.8"/>
<line x1="396.8" y1="533.7" x2="399.4" y2="533.7" stroke="#9a9cb0" stroke-width="0.8"/>
<line x1="432.7" y1="506.7" x2="432.7" y2="526.7" stroke="#9a9cb0" stroke-width="0.8"/>
<line x1="431.4" y1="506.7" x2="434" y2="506.7" stroke="#9a9cb0" stroke-width="0.8"/>
<line x1="431.4" y1="526.7" x2="434" y2="526.7" stroke="#9a9cb0" stroke-width="0.8"/>
<line x1="458.8" y1="496.2" x2="458.8" y2="520.2" stroke="#9a9cb0" stroke-width="0.8"/>
<line x1="457.5" y1="496.2" x2="460.1" y2="496.2" stroke="#9a9cb0" stroke-width="0.8"/>
<line x1="457.5" y1="520.2" x2="460.1" y2="520.2" stroke="#9a9cb0" stroke-width="0.8"/>
<line x1="494.2" y1="490.7" x2="494.2" y2="518.7" stroke="#9a9cb0" stroke-width="0.8"/>
<line x1="492.9" y1="490.7" x2="495.5" y2="490.7" stroke="#9a9cb0" stroke-width="0.8"/>
<line x1="492.9" y1="518.7" x2="495.5" y2="518.7" stroke="#9a9cb0" stroke-width="0.8"/>
<line x1="336.9" y1="521" x2="336.9" y2="533" stroke="#b89096" stroke-width="0.8"/>
<line x1="335.6" y1="521" x2="338.2" y2="521" stroke="#b89096" stroke-width="0.8"/>
<line x1="335.6" y1="533" x2="338.2" y2="533" stroke="#b89096" stroke-width="0.8"/>
<line x1="372.3" y1="514.3" x2="372.3" y2="528.3" stroke="#b89096" stroke-width="0.8"/>
<line x1="371" y1="514.3" x2="373.6" y2="514.3" stroke="#b89096" stroke-width="0.8"/>
<line x1="371" y1="528.3" x2="373.6" y2="528.3" stroke="#b89096" stroke-width="0.8"/>
<line x1="398.1" y1="511.7" x2="398.1" y2="527.7" stroke="#b89096" stroke-width="0.8"/>
<line x1="396.8" y1="511.7" x2="399.4" y2="511.7" stroke="#b89096" stroke-width="0.8"/>
<line x1="396.8" y1="527.7" x2="399.4" y2="527.7" stroke="#b89096" stroke-width="0.8"/>
<line x1="432.7" y1="503.6" x2="432.7" y2="523.6" stroke="#b89096" stroke-width="0.8"/>
<line x1="431.4" y1="503.6" x2="434" y2="503.6" stroke="#b89096" stroke-width="0.8"/>
<line x1="431.4" y1="523.6" x2="434" y2="523.6" stroke="#b89096" stroke-width="0.8"/>
<line x1="458.8" y1="492.7" x2="458.8" y2="516.7" stroke="#b89096" stroke-width="0.8"/>
<line x1="457.5" y1="492.7" x2="460.1" y2="492.7" stroke="#b89096" stroke-width="0.8"/>
<line x1="457.5" y1="516.7" x2="460.1" y2="516.7" stroke="#b89096" stroke-width="0.8"/>
<line x1="494.2" y1="485.6" x2="494.2" y2="511.6" stroke="#b89096" stroke-width="0.8"/>
<line x1="492.9" y1="485.6" x2="495.5" y2="485.6" stroke="#b89096" stroke-width="0.8"/>
<line x1="492.9" y1="511.6" x2="495.5" y2="511.6" stroke="#b89096" stroke-width="0.8"/>
<line x1="336.9" y1="533.7" x2="336.9" y2="545.7" stroke="#90a898" stroke-width="0.8"/>
<line x1="335.6" y1="533.7" x2="338.2" y2="533.7" stroke="#90a898" stroke-width="0.8"/>
<line x1="335.6" y1="545.7" x2="338.2" y2="545.7" stroke="#90a898" stroke-width="0.8"/>
<line x1="372.3" y1="531.4" x2="372.3" y2="543.4" stroke="#90a898" stroke-width="0.8"/>
<line x1="371" y1="531.4" x2="373.6" y2="531.4" stroke="#90a898" stroke-width="0.8"/>
<line x1="371" y1="543.4" x2="373.6" y2="543.4" stroke="#90a898" stroke-width="0.8"/>
<line x1="398.1" y1="532.2" x2="398.1" y2="544.2" stroke="#90a898" stroke-width="0.8"/>
<line x1="396.8" y1="532.2" x2="399.4" y2="532.2" stroke="#90a898" stroke-width="0.8"/>
<line x1="396.8" y1="544.2" x2="399.4" y2="544.2" stroke="#90a898" stroke-width="0.8"/>
<line x1="432.7" y1="527.6" x2="432.7" y2="539.6" stroke="#90a898" stroke-width="0.8"/>
<line x1="431.4" y1="527.6" x2="434" y2="527.6" stroke="#90a898" stroke-width="0.8"/>
<line x1="431.4" y1="539.6" x2="434" y2="539.6" stroke="#90a898" stroke-width="0.8"/>
<line x1="458.8" y1="530.7" x2="458.8" y2="542.7" stroke="#90a898" stroke-width="0.8"/>
<line x1="457.5" y1="530.7" x2="460.1" y2="530.7" stroke="#90a898" stroke-width="0.8"/>
<line x1="457.5" y1="542.7" x2="460.1" y2="542.7" stroke="#90a898" stroke-width="0.8"/>
<line x1="494.2" y1="528.1" x2="494.2" y2="542.1" stroke="#90a898" stroke-width="0.8"/>
<line x1="492.9" y1="528.1" x2="495.5" y2="528.1" stroke="#90a898" stroke-width="0.8"/>
<line x1="492.9" y1="542.1" x2="495.5" y2="542.1" stroke="#90a898" stroke-width="0.8"/>
<line x1="336.9" y1="514.3" x2="336.9" y2="525.1" stroke="#8a8a8a" stroke-width="0.8"/>
<line x1="335.6" y1="514.3" x2="338.2" y2="514.3" stroke="#8a8a8a" stroke-width="0.8"/>
<line x1="335.6" y1="525.1" x2="338.2" y2="525.1" stroke="#8a8a8a" stroke-width="0.8"/>
<line x1="372.3" y1="497.5" x2="372.3" y2="510.5" stroke="#8a8a8a" stroke-width="0.8"/>
<line x1="371" y1="497.5" x2="373.6" y2="497.5" stroke="#8a8a8a" stroke-width="0.8"/>
<line x1="371" y1="510.5" x2="373.6" y2="510.5" stroke="#8a8a8a" stroke-width="0.8"/>
<line x1="398.1" y1="480.5" x2="398.1" y2="498.9" stroke="#8a8a8a" stroke-width="0.8"/>
<line x1="396.8" y1="480.5" x2="399.4" y2="480.5" stroke="#8a8a8a" stroke-width="0.8"/>
<line x1="396.8" y1="498.9" x2="399.4" y2="498.9" stroke="#8a8a8a" stroke-width="0.8"/>
<line x1="432.7" y1="450.2" x2="432.7" y2="479.2" stroke="#8a8a8a" stroke-width="0.8"/>
<line x1="431.4" y1="450.2" x2="434" y2="450.2" stroke="#8a8a8a" stroke-width="0.8"/>
<line x1="431.4" y1="479.2" x2="434" y2="479.2" stroke="#8a8a8a" stroke-width="0.8"/>
<line x1="458.8" y1="428" x2="458.8" y2="466" stroke="#8a8a8a" stroke-width="0.8"/>
<line x1="457.5" y1="428" x2="460.1" y2="428" stroke="#8a8a8a" stroke-width="0.8"/>
<line x1="457.5" y1="466" x2="460.1" y2="466" stroke="#8a8a8a" stroke-width="0.8"/>
<line x1="494.2" y1="410.5" x2="494.2" y2="450.5" stroke="#8a8a8a" stroke-width="0.8"/>
<line x1="492.9" y1="410.5" x2="495.5" y2="410.5" stroke="#8a8a8a" stroke-width="0.8"/>
<line x1="492.9" y1="450.5" x2="495.5" y2="450.5" stroke="#8a8a8a" stroke-width="0.8"/>
<polyline points="310.4,537.8 336.9,537.4 372.3,528.2 398.1,526.7 432.7,516.7 458.8,508.2 494.2,504.7" fill="none" stroke="#2c3d94" stroke-width="1.45" stroke-linejoin="round"/>
<polyline points="310.4,536.7 336.9,527 372.3,521.3 398.1,519.7 432.7,513.6 458.8,504.7 494.2,498.6" fill="none" stroke="#d0283a" stroke-width="1.45" stroke-linejoin="round"/>
<polyline points="310.4,539 336.9,539.7 372.3,537.4 398.1,538.2 432.7,533.6 458.8,536.7 494.2,535.1" fill="none" stroke="#14854a" stroke-width="1.45" stroke-linejoin="round"/>
<polyline points="310.4,533.2 336.9,519.7 372.3,504 398.1,489.7 432.7,464.7 458.8,447 494.2,430.5" fill="none" stroke="#111" stroke-width="1.45" stroke-linejoin="round"/>
<circle cx="310.4" cy="533.2" r="2.15" fill="#fff" stroke="#111" stroke-width="0.9"/>
<circle cx="336.9" cy="519.7" r="2.15" fill="#fff" stroke="#111" stroke-width="0.9"/>
<circle cx="372.3" cy="504" r="2.15" fill="#fff" stroke="#111" stroke-width="0.9"/>
<circle cx="398.1" cy="489.7" r="2.15" fill="#fff" stroke="#111" stroke-width="0.9"/>
<circle cx="432.7" cy="464.7" r="2.15" fill="#fff" stroke="#111" stroke-width="0.9"/>
<circle cx="458.8" cy="447" r="2.15" fill="#fff" stroke="#111" stroke-width="0.9"/>
<circle cx="494.2" cy="430.5" r="2.15" fill="#fff" stroke="#111" stroke-width="0.9"/>
<circle cx="310.4" cy="537.8" r="2.6" fill="#26368c"/>
<circle cx="336.9" cy="537.4" r="2.6" fill="#26368c"/>
<circle cx="372.3" cy="528.2" r="2.6" fill="#26368c"/>
<circle cx="398.1" cy="526.7" r="2.6" fill="#26368c"/>
<circle cx="432.7" cy="516.7" r="2.6" fill="#26368c"/>
<circle cx="458.8" cy="508.2" r="2.6" fill="#26368c"/>
<circle cx="494.2" cy="504.7" r="2.6" fill="#26368c"/>
<path d="M310.4 534.3l2.3 3.9h-4.6z" fill="#c8202f"/>
<path d="M336.9 524.6l2.3 3.9h-4.6z" fill="#c8202f"/>
<path d="M372.3 518.9l2.3 3.9h-4.6z" fill="#c8202f"/>
<path d="M398.1 517.3l2.3 3.9h-4.6z" fill="#c8202f"/>
<path d="M432.7 511.2l2.3 3.9h-4.6z" fill="#c8202f"/>
<path d="M458.8 502.3l2.3 3.9h-4.6z" fill="#c8202f"/>
<path d="M494.2 496.2l2.3 3.9h-4.6z" fill="#c8202f"/>
<path d="M310.4 536.3l2.9 2.7l-2.9 2.7l-2.9 -2.7z" fill="#0e6e3c"/>
<path d="M336.9 537l2.9 2.7l-2.9 2.7l-2.9 -2.7z" fill="#0e6e3c"/>
<path d="M372.3 534.7l2.9 2.7l-2.9 2.7l-2.9 -2.7z" fill="#0e6e3c"/>
<path d="M398.1 535.5l2.9 2.7l-2.9 2.7l-2.9 -2.7z" fill="#0e6e3c"/>
<path d="M432.7 530.9l2.9 2.7l-2.9 2.7l-2.9 -2.7z" fill="#0e6e3c"/>
<path d="M458.8 534l2.9 2.7l-2.9 2.7l-2.9 -2.7z" fill="#0e6e3c"/>
<path d="M494.2 532.4l2.9 2.7l-2.9 2.7l-2.9 -2.7z" fill="#0e6e3c"/>
</svg>
</body></html>
